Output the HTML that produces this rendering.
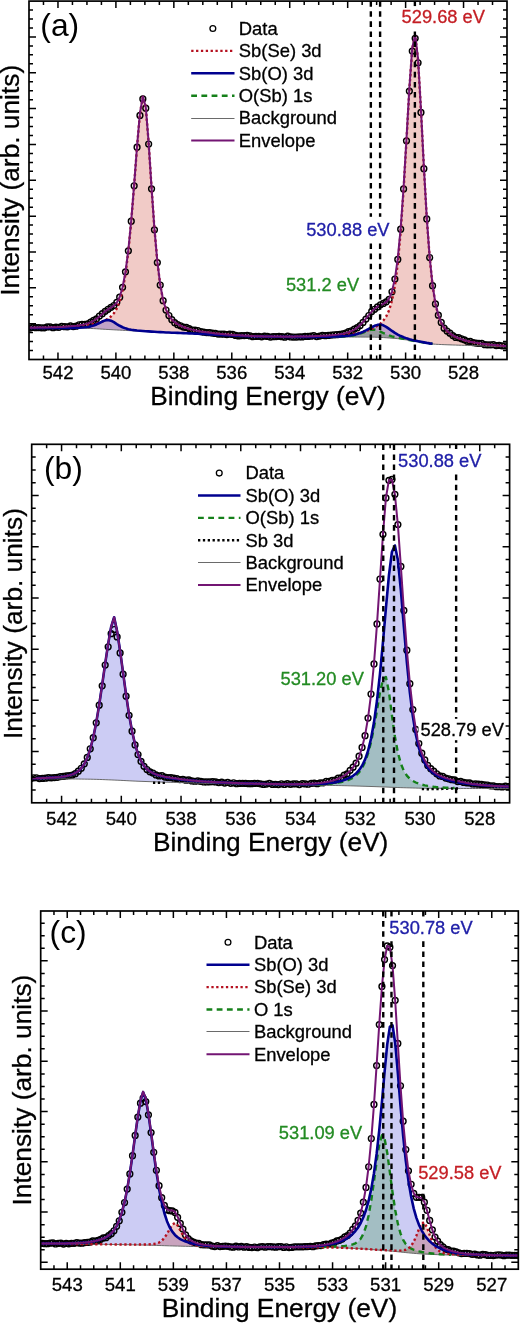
<!DOCTYPE html>
<html><head><meta charset="utf-8"><title>XPS Sb 3d / O 1s</title>
<style>
html,body{margin:0;padding:0;background:#fff;}
body{width:520px;height:1323px;overflow:hidden;}
svg{display:block;}
svg text{font-family:'Liberation Sans', Arial, Helvetica, sans-serif;stroke:currentColor;stroke-width:0.3px;}
</style></head>
<body>
<svg width="520" height="1323" viewBox="0 0 520 1323">
<rect width="520" height="1323" fill="#fff"/>
<clipPath id="clipa"><rect x="29" y="1.1" width="478" height="358.4"/></clipPath>
<g clip-path="url(#clipa)">
<polygon points="24.08,327.79 26.97,327.78 29.87,327.76 32.77,327.74 35.66,327.71 38.56,327.68 41.46,327.64 44.35,327.59 47.25,327.53 50.15,327.47 53.04,327.39 55.94,327.3 58.84,327.2 61.74,327.08 64.63,326.94 67.53,326.79 70.43,326.61 73.32,326.4 76.22,326.17 79.12,325.89 82.01,325.57 84.91,325.2 87.81,324.79 90.71,324.33 93.6,323.82 96.5,323.21 99.4,322.46 102.29,321.52 105.19,320.3 108.09,318.69 110.98,316.47 113.88,313.29 116.78,308.55 119.68,301.32 122.57,290.3 125.47,274.03 128.37,251.18 131.26,221.21 134.16,185.11 137.06,146.6 139.95,113.45 142.85,96.86 145.75,107.06 148.64,142.87 151.54,187.59 154.44,228.9 157.34,261.58 160.23,284.83 163.13,300.13 166.03,309.72 168.92,315.69 171.82,319.56 174.72,322.23 177.61,324.2 180.51,325.75 183.41,326.99 186.31,328.03 189.2,328.91 192.1,329.67 195,330.34 197.89,330.93 200.79,331.46 203.69,331.94 206.58,332.38 209.48,332.78 212.38,333.15 215.28,333.48 218.17,333.79 221.07,334.07 223.97,334.32 226.86,334.55 229.76,334.76 232.66,334.97 235.55,335.17 238.45,335.35 241.35,335.52 244.24,335.68 247.14,335.83 250.04,335.96 252.94,336.08 255.83,336.19 258.73,336.27 261.63,336.35 264.52,336.41 267.42,336.47 270.32,336.53 273.21,336.58 276.11,336.62 279.01,336.66 281.91,336.69 284.8,336.71 287.7,336.73 290.6,336.74 293.49,336.74 296.39,336.73 299.29,336.71 302.18,336.68 305.08,336.65 307.98,336.61 310.88,336.56 313.77,336.5 316.67,336.43 319.57,336.34 322.46,336.25 325.36,336.14 328.26,336.02 331.15,335.88 334.05,335.72 336.95,335.53 339.84,335.32 342.74,335.08 345.64,334.8 348.54,334.47 351.43,334.1 354.33,333.66 357.23,333.16 360.12,332.56 363.02,331.87 365.92,331.04 368.81,330.06 371.71,328.88 374.61,327.48 377.51,325.77 380.4,323.59 383.3,320.67 386.2,316.51 389.09,310.27 391.99,300.59 394.89,285.63 397.78,263.27 400.68,231.67 403.58,190.17 406.48,140.62 409.37,89.3 412.27,48.86 415.17,35.54 418.06,59.59 420.96,110.16 423.86,167.12 426.75,217.84 429.65,257.36 432.55,285.36 435.44,303.79 438.34,315.45 441.24,322.82 444.14,327.64 447.03,331.01 449.93,333.5 452.83,335.45 455.72,337.02 458.62,338.3 461.52,339.38 464.41,340.29 467.31,341.08 470.21,341.76 473.11,342.36 476,342.89 478.9,343.36 481.8,343.77 484.69,344.15 487.59,344.48 490.49,344.79 493.38,345.07 496.28,345.33 499.18,345.56 502.08,345.78 504.97,345.99 507.87,346.18 510.77,346.37 513.66,346.54 513.66,347.03 510.77,346.93 507.87,346.83 504.97,346.73 502.08,346.63 499.18,346.53 496.28,346.43 493.38,346.32 490.49,346.22 487.59,346.12 484.69,346.02 481.8,345.92 478.9,345.82 476,345.72 473.11,345.61 470.21,345.51 467.31,345.41 464.41,345.32 461.52,345.23 458.62,345.15 455.72,345.06 452.83,344.98 449.93,344.88 447.03,344.78 444.14,344.67 441.24,344.54 438.34,344.39 435.44,344.23 432.55,344 429.65,343.66 426.75,343.24 423.86,342.76 420.96,342.27 418.06,341.78 415.17,341.32 412.27,340.88 409.37,340.41 406.48,339.92 403.58,339.46 400.68,339.03 397.78,338.67 394.89,338.39 391.99,338.17 389.09,337.95 386.2,337.75 383.3,337.56 380.4,337.4 377.51,337.27 374.61,337.17 371.71,337.11 368.81,337.1 365.92,337.09 363.02,337.08 360.12,337.07 357.23,337.07 354.33,337.06 351.43,337.06 348.54,337.06 345.64,337.05 342.74,337.05 339.84,337.05 336.95,337.05 334.05,337.04 331.15,337.04 328.26,337.04 325.36,337.04 322.46,337.04 319.57,337.03 316.67,337.03 313.77,337.03 310.88,337.02 307.98,337.02 305.08,337.01 302.18,337.01 299.29,337 296.39,336.99 293.49,336.97 290.6,336.95 287.7,336.92 284.8,336.89 281.91,336.86 279.01,336.82 276.11,336.78 273.21,336.73 270.32,336.68 267.42,336.64 264.52,336.58 261.63,336.53 258.73,336.47 255.83,336.41 252.94,336.33 250.04,336.24 247.14,336.13 244.24,336.03 241.35,335.91 238.45,335.79 235.55,335.66 232.66,335.54 229.76,335.41 226.86,335.28 223.97,335.15 221.07,335.02 218.17,334.88 215.28,334.72 212.38,334.57 209.48,334.41 206.58,334.24 203.69,334.08 200.79,333.93 197.89,333.77 195,333.63 192.1,333.49 189.2,333.37 186.31,333.25 183.41,333.15 180.51,333.05 177.61,332.96 174.72,332.86 171.82,332.76 168.92,332.66 166.03,332.54 163.13,332.42 160.23,332.28 157.34,332.14 154.44,331.99 151.54,331.83 148.64,331.67 145.75,331.51 142.85,331.35 139.95,331.2 137.06,331.04 134.16,330.89 131.26,330.74 128.37,330.58 125.47,330.43 122.57,330.27 119.68,330.11 116.78,329.96 113.88,329.81 110.98,329.65 108.09,329.49 105.19,329.32 102.29,329.13 99.4,328.94 96.5,328.76 93.6,328.59 90.71,328.46 87.81,328.35 84.91,328.3 82.01,328.27 79.12,328.24 76.22,328.22 73.32,328.2 70.43,328.18 67.53,328.16 64.63,328.15 61.74,328.13 58.84,328.12 55.94,328.11 53.04,328.1 50.15,328.09 47.25,328.08 44.35,328.07 41.46,328.05 38.56,328.04 35.66,328.03 32.77,328.02 29.87,328 26.97,327.99 24.08,327.97" fill="#c01000" fill-opacity="0.22"/>
<polygon points="24.08,327.94 26.97,327.95 29.87,327.96 32.77,327.97 35.66,327.98 38.56,327.98 41.46,327.99 44.35,327.99 47.25,327.99 50.15,327.98 53.04,327.98 55.94,327.97 58.84,327.96 61.74,327.95 64.63,327.93 67.53,327.91 70.43,327.87 73.32,327.83 76.22,327.77 79.12,327.68 82.01,327.54 84.91,327.3 87.81,326.93 90.71,326.37 93.6,325.55 96.5,324.42 99.4,323.02 102.29,321.55 105.19,320.37 108.09,319.99 110.98,320.7 113.88,322.22 116.78,324.04 119.68,325.77 122.57,327.22 125.47,328.34 128.37,329.15 131.26,329.74 134.16,330.16 137.06,330.49 139.95,330.75 142.85,330.99 145.75,331.21 148.64,331.41 151.54,331.61 154.44,331.8 157.34,331.98 160.23,332.14 163.13,332.3 166.03,332.44 168.92,332.57 171.82,332.68 174.72,332.79 177.61,332.9 180.51,333 183.41,333.1 186.31,333.21 189.2,333.33 192.1,333.46 195,333.6 197.89,333.75 200.79,333.9 203.69,334.06 206.58,334.23 209.48,334.39 212.38,334.55 215.28,334.71 218.17,334.86 221.07,335.01 223.97,335.15 226.86,335.27 229.76,335.4 232.66,335.53 235.55,335.66 238.45,335.78 241.35,335.9 244.24,336.02 247.14,336.12 250.04,336.22 252.94,336.31 255.83,336.39 258.73,336.46 261.63,336.51 264.52,336.56 267.42,336.61 270.32,336.66 273.21,336.7 276.11,336.74 279.01,336.78 281.91,336.81 284.8,336.84 287.7,336.87 290.6,336.89 293.49,336.9 296.39,336.91 299.29,336.91 302.18,336.9 305.08,336.89 307.98,336.88 310.88,336.87 313.77,336.85 316.67,336.83 319.57,336.8 322.46,336.77 325.36,336.73 328.26,336.69 331.15,336.63 334.05,336.57 336.95,336.48 339.84,336.37 342.74,336.22 345.64,336.01 348.54,335.71 351.43,335.3 354.33,334.74 357.23,333.99 360.12,333.03 363.02,331.83 365.92,330.41 368.81,328.84 371.71,327.23 374.61,325.82 377.51,324.86 380.4,324.6 383.3,325.29 386.2,326.85 389.09,328.86 391.99,330.95 394.89,332.89 397.78,334.59 400.68,336.06 403.58,337.31 406.48,338.35 409.37,339.23 412.27,339.98 415.17,340.61 418.06,341.19 420.96,341.78 423.86,342.35 426.75,342.89 429.65,343.36 432.55,343.74 435.44,344 438.34,344.2 441.24,344.37 444.14,344.52 447.03,344.65 449.93,344.77 452.83,344.88 455.72,344.97 458.62,345.07 461.52,345.16 464.41,345.26 467.31,345.36 470.21,345.46 473.11,345.57 476,345.68 478.9,345.79 481.8,345.89 484.69,346 487.59,346.1 490.49,346.21 493.38,346.31 496.28,346.41 499.18,346.51 502.08,346.62 504.97,346.72 507.87,346.82 510.77,346.93 513.66,347.03 513.66,347.03 510.77,346.93 507.87,346.83 504.97,346.73 502.08,346.63 499.18,346.53 496.28,346.43 493.38,346.32 490.49,346.22 487.59,346.12 484.69,346.02 481.8,345.92 478.9,345.82 476,345.72 473.11,345.61 470.21,345.51 467.31,345.41 464.41,345.32 461.52,345.23 458.62,345.15 455.72,345.06 452.83,344.98 449.93,344.88 447.03,344.78 444.14,344.67 441.24,344.54 438.34,344.39 435.44,344.23 432.55,344 429.65,343.66 426.75,343.24 423.86,342.76 420.96,342.27 418.06,341.78 415.17,341.32 412.27,340.88 409.37,340.41 406.48,339.92 403.58,339.46 400.68,339.03 397.78,338.67 394.89,338.39 391.99,338.17 389.09,337.95 386.2,337.75 383.3,337.56 380.4,337.4 377.51,337.27 374.61,337.17 371.71,337.11 368.81,337.1 365.92,337.09 363.02,337.08 360.12,337.07 357.23,337.07 354.33,337.06 351.43,337.06 348.54,337.06 345.64,337.05 342.74,337.05 339.84,337.05 336.95,337.05 334.05,337.04 331.15,337.04 328.26,337.04 325.36,337.04 322.46,337.04 319.57,337.03 316.67,337.03 313.77,337.03 310.88,337.02 307.98,337.02 305.08,337.01 302.18,337.01 299.29,337 296.39,336.99 293.49,336.97 290.6,336.95 287.7,336.92 284.8,336.89 281.91,336.86 279.01,336.82 276.11,336.78 273.21,336.73 270.32,336.68 267.42,336.64 264.52,336.58 261.63,336.53 258.73,336.47 255.83,336.41 252.94,336.33 250.04,336.24 247.14,336.13 244.24,336.03 241.35,335.91 238.45,335.79 235.55,335.66 232.66,335.54 229.76,335.41 226.86,335.28 223.97,335.15 221.07,335.02 218.17,334.88 215.28,334.72 212.38,334.57 209.48,334.41 206.58,334.24 203.69,334.08 200.79,333.93 197.89,333.77 195,333.63 192.1,333.49 189.2,333.37 186.31,333.25 183.41,333.15 180.51,333.05 177.61,332.96 174.72,332.86 171.82,332.76 168.92,332.66 166.03,332.54 163.13,332.42 160.23,332.28 157.34,332.14 154.44,331.99 151.54,331.83 148.64,331.67 145.75,331.51 142.85,331.35 139.95,331.2 137.06,331.04 134.16,330.89 131.26,330.74 128.37,330.58 125.47,330.43 122.57,330.27 119.68,330.11 116.78,329.96 113.88,329.81 110.98,329.65 108.09,329.49 105.19,329.32 102.29,329.13 99.4,328.94 96.5,328.76 93.6,328.59 90.71,328.46 87.81,328.35 84.91,328.3 82.01,328.27 79.12,328.24 76.22,328.22 73.32,328.2 70.43,328.18 67.53,328.16 64.63,328.15 61.74,328.13 58.84,328.12 55.94,328.11 53.04,328.1 50.15,328.09 47.25,328.08 44.35,328.07 41.46,328.05 38.56,328.04 35.66,328.03 32.77,328.02 29.87,328 26.97,327.99 24.08,327.97" fill="#0000c8" fill-opacity="0.2"/>
<polygon points="24.08,327.97 26.97,327.99 29.87,328 32.77,328.02 35.66,328.03 38.56,328.04 41.46,328.05 44.35,328.07 47.25,328.08 50.15,328.09 53.04,328.1 55.94,328.11 58.84,328.12 61.74,328.13 64.63,328.15 67.53,328.16 70.43,328.18 73.32,328.2 76.22,328.22 79.12,328.24 82.01,328.27 84.91,328.3 87.81,328.35 90.71,328.46 93.6,328.59 96.5,328.76 99.4,328.94 102.29,329.13 105.19,329.32 108.09,329.49 110.98,329.65 113.88,329.81 116.78,329.96 119.68,330.11 122.57,330.27 125.47,330.43 128.37,330.58 131.26,330.74 134.16,330.89 137.06,331.04 139.95,331.2 142.85,331.35 145.75,331.51 148.64,331.67 151.54,331.83 154.44,331.99 157.34,332.14 160.23,332.28 163.13,332.42 166.03,332.54 168.92,332.66 171.82,332.76 174.72,332.86 177.61,332.96 180.51,333.05 183.41,333.15 186.31,333.25 189.2,333.37 192.1,333.49 195,333.63 197.89,333.77 200.79,333.92 203.69,334.08 206.58,334.24 209.48,334.4 212.38,334.57 215.28,334.72 218.17,334.87 221.07,335.02 223.97,335.15 226.86,335.28 229.76,335.41 232.66,335.53 235.55,335.66 238.45,335.79 241.35,335.91 244.24,336.02 247.14,336.13 250.04,336.23 252.94,336.32 255.83,336.4 258.73,336.47 261.63,336.52 264.52,336.57 267.42,336.62 270.32,336.67 273.21,336.72 276.11,336.76 279.01,336.8 281.91,336.83 284.8,336.86 287.7,336.89 290.6,336.91 293.49,336.93 296.39,336.94 299.29,336.95 302.18,336.95 305.08,336.95 307.98,336.94 310.88,336.94 313.77,336.93 316.67,336.92 319.57,336.91 322.46,336.89 325.36,336.87 328.26,336.84 331.15,336.81 334.05,336.77 336.95,336.71 339.84,336.64 342.74,336.53 345.64,336.37 348.54,336.13 351.43,335.77 354.33,335.25 357.23,334.54 360.12,333.62 363.02,332.53 365.92,331.37 368.81,330.33 371.71,329.7 374.61,329.76 377.51,330.5 380.4,331.69 383.3,333.02 386.2,334.3 389.09,335.42 391.99,336.35 394.89,337.1 397.78,337.74 400.68,338.35 403.58,338.93 406.48,339.51 409.37,340.07 412.27,340.6 415.17,341.09 418.06,341.58 420.96,342.09 423.86,342.62 426.75,343.11 429.65,343.55 432.55,343.9 435.44,344.14 438.34,344.32 441.24,344.48 444.14,344.61 447.03,344.73 449.93,344.84 452.83,344.94 455.72,345.03 458.62,345.12 461.52,345.2 464.41,345.29 467.31,345.39 470.21,345.49 473.11,345.6 476,345.7 478.9,345.81 481.8,345.91 484.69,346.01 487.59,346.12 490.49,346.22 493.38,346.32 496.28,346.42 499.18,346.52 502.08,346.62 504.97,346.73 507.87,346.83 510.77,346.93 513.66,347.03 513.66,347.03 510.77,346.93 507.87,346.83 504.97,346.73 502.08,346.63 499.18,346.53 496.28,346.43 493.38,346.32 490.49,346.22 487.59,346.12 484.69,346.02 481.8,345.92 478.9,345.82 476,345.72 473.11,345.61 470.21,345.51 467.31,345.41 464.41,345.32 461.52,345.23 458.62,345.15 455.72,345.06 452.83,344.98 449.93,344.88 447.03,344.78 444.14,344.67 441.24,344.54 438.34,344.39 435.44,344.23 432.55,344 429.65,343.66 426.75,343.24 423.86,342.76 420.96,342.27 418.06,341.78 415.17,341.32 412.27,340.88 409.37,340.41 406.48,339.92 403.58,339.46 400.68,339.03 397.78,338.67 394.89,338.39 391.99,338.17 389.09,337.95 386.2,337.75 383.3,337.56 380.4,337.4 377.51,337.27 374.61,337.17 371.71,337.11 368.81,337.1 365.92,337.09 363.02,337.08 360.12,337.07 357.23,337.07 354.33,337.06 351.43,337.06 348.54,337.06 345.64,337.05 342.74,337.05 339.84,337.05 336.95,337.05 334.05,337.04 331.15,337.04 328.26,337.04 325.36,337.04 322.46,337.04 319.57,337.03 316.67,337.03 313.77,337.03 310.88,337.02 307.98,337.02 305.08,337.01 302.18,337.01 299.29,337 296.39,336.99 293.49,336.97 290.6,336.95 287.7,336.92 284.8,336.89 281.91,336.86 279.01,336.82 276.11,336.78 273.21,336.73 270.32,336.68 267.42,336.64 264.52,336.58 261.63,336.53 258.73,336.47 255.83,336.41 252.94,336.33 250.04,336.24 247.14,336.13 244.24,336.03 241.35,335.91 238.45,335.79 235.55,335.66 232.66,335.54 229.76,335.41 226.86,335.28 223.97,335.15 221.07,335.02 218.17,334.88 215.28,334.72 212.38,334.57 209.48,334.41 206.58,334.24 203.69,334.08 200.79,333.93 197.89,333.77 195,333.63 192.1,333.49 189.2,333.37 186.31,333.25 183.41,333.15 180.51,333.05 177.61,332.96 174.72,332.86 171.82,332.76 168.92,332.66 166.03,332.54 163.13,332.42 160.23,332.28 157.34,332.14 154.44,331.99 151.54,331.83 148.64,331.67 145.75,331.51 142.85,331.35 139.95,331.2 137.06,331.04 134.16,330.89 131.26,330.74 128.37,330.58 125.47,330.43 122.57,330.27 119.68,330.11 116.78,329.96 113.88,329.81 110.98,329.65 108.09,329.49 105.19,329.32 102.29,329.13 99.4,328.94 96.5,328.76 93.6,328.59 90.71,328.46 87.81,328.35 84.91,328.3 82.01,328.27 79.12,328.24 76.22,328.22 73.32,328.2 70.43,328.18 67.53,328.16 64.63,328.15 61.74,328.13 58.84,328.12 55.94,328.11 53.04,328.1 50.15,328.09 47.25,328.08 44.35,328.07 41.46,328.05 38.56,328.04 35.66,328.03 32.77,328.02 29.87,328 26.97,327.99 24.08,327.97" fill="#008800" fill-opacity="0.2"/>
<g fill="none" stroke="#000" stroke-width="1.45"><circle cx="24.08" cy="327.32" r="2.9"/><circle cx="26.97" cy="328.16" r="2.9"/><circle cx="29.87" cy="328.04" r="2.9"/><circle cx="32.77" cy="327.4" r="2.9"/><circle cx="35.66" cy="327.66" r="2.9"/><circle cx="38.56" cy="327.56" r="2.9"/><circle cx="41.46" cy="327.76" r="2.9"/><circle cx="44.35" cy="327.86" r="2.9"/><circle cx="47.25" cy="326.96" r="2.9"/><circle cx="50.15" cy="326.8" r="2.9"/><circle cx="53.04" cy="327.68" r="2.9"/><circle cx="55.94" cy="327.09" r="2.9"/><circle cx="58.84" cy="327.36" r="2.9"/><circle cx="61.74" cy="326.3" r="2.9"/><circle cx="64.63" cy="326.67" r="2.9"/><circle cx="67.53" cy="326.81" r="2.9"/><circle cx="70.43" cy="325.99" r="2.9"/><circle cx="73.32" cy="326.59" r="2.9"/><circle cx="76.22" cy="326.22" r="2.9"/><circle cx="79.12" cy="324.79" r="2.9"/><circle cx="82.01" cy="324.3" r="2.9"/><circle cx="84.91" cy="324.28" r="2.9"/><circle cx="87.81" cy="323.92" r="2.9"/><circle cx="90.71" cy="322.14" r="2.9"/><circle cx="93.6" cy="320.47" r="2.9"/><circle cx="96.5" cy="318.82" r="2.9"/><circle cx="99.4" cy="316.03" r="2.9"/><circle cx="102.29" cy="313.67" r="2.9"/><circle cx="105.19" cy="311.36" r="2.9"/><circle cx="108.09" cy="309.28" r="2.9"/><circle cx="110.98" cy="307.31" r="2.9"/><circle cx="113.88" cy="305.53" r="2.9"/><circle cx="116.78" cy="302.48" r="2.9"/><circle cx="119.68" cy="297.17" r="2.9"/><circle cx="122.57" cy="287.34" r="2.9"/><circle cx="125.47" cy="271.84" r="2.9"/><circle cx="128.37" cy="250.83" r="2.9"/><circle cx="131.26" cy="221.21" r="2.9"/><circle cx="134.16" cy="185.79" r="2.9"/><circle cx="137.06" cy="147.23" r="2.9"/><circle cx="139.95" cy="115.45" r="2.9"/><circle cx="142.85" cy="98.93" r="2.9"/><circle cx="145.75" cy="108.21" r="2.9"/><circle cx="148.64" cy="144.02" r="2.9"/><circle cx="151.54" cy="188.87" r="2.9"/><circle cx="154.44" cy="229.85" r="2.9"/><circle cx="157.34" cy="262.55" r="2.9"/><circle cx="160.23" cy="285" r="2.9"/><circle cx="163.13" cy="300.68" r="2.9"/><circle cx="166.03" cy="310.01" r="2.9"/><circle cx="168.92" cy="315.51" r="2.9"/><circle cx="171.82" cy="319.7" r="2.9"/><circle cx="174.72" cy="322.71" r="2.9"/><circle cx="177.61" cy="324.63" r="2.9"/><circle cx="180.51" cy="325.76" r="2.9"/><circle cx="183.41" cy="327.11" r="2.9"/><circle cx="186.31" cy="327.48" r="2.9"/><circle cx="189.2" cy="328.6" r="2.9"/><circle cx="192.1" cy="330.03" r="2.9"/><circle cx="195" cy="330.23" r="2.9"/><circle cx="197.89" cy="330.54" r="2.9"/><circle cx="200.79" cy="331.52" r="2.9"/><circle cx="203.69" cy="332.18" r="2.9"/><circle cx="206.58" cy="332.59" r="2.9"/><circle cx="209.48" cy="332.63" r="2.9"/><circle cx="212.38" cy="333.07" r="2.9"/><circle cx="215.28" cy="333.49" r="2.9"/><circle cx="218.17" cy="334.12" r="2.9"/><circle cx="221.07" cy="334.09" r="2.9"/><circle cx="223.97" cy="334.19" r="2.9"/><circle cx="226.86" cy="334.53" r="2.9"/><circle cx="229.76" cy="334.2" r="2.9"/><circle cx="232.66" cy="334.42" r="2.9"/><circle cx="235.55" cy="335.4" r="2.9"/><circle cx="238.45" cy="335.92" r="2.9"/><circle cx="241.35" cy="335.62" r="2.9"/><circle cx="244.24" cy="335.54" r="2.9"/><circle cx="247.14" cy="335.42" r="2.9"/><circle cx="250.04" cy="335.95" r="2.9"/><circle cx="252.94" cy="336.65" r="2.9"/><circle cx="255.83" cy="336.49" r="2.9"/><circle cx="258.73" cy="336.3" r="2.9"/><circle cx="261.63" cy="336.76" r="2.9"/><circle cx="264.52" cy="336.06" r="2.9"/><circle cx="267.42" cy="336.46" r="2.9"/><circle cx="270.32" cy="337.03" r="2.9"/><circle cx="273.21" cy="336.63" r="2.9"/><circle cx="276.11" cy="336.52" r="2.9"/><circle cx="279.01" cy="336.33" r="2.9"/><circle cx="281.91" cy="336.69" r="2.9"/><circle cx="284.8" cy="337.19" r="2.9"/><circle cx="287.7" cy="336.06" r="2.9"/><circle cx="290.6" cy="336.99" r="2.9"/><circle cx="293.49" cy="337.02" r="2.9"/><circle cx="296.39" cy="337.07" r="2.9"/><circle cx="299.29" cy="336.86" r="2.9"/><circle cx="302.18" cy="336.9" r="2.9"/><circle cx="305.08" cy="336.49" r="2.9"/><circle cx="307.98" cy="336.48" r="2.9"/><circle cx="310.88" cy="336.23" r="2.9"/><circle cx="313.77" cy="335.7" r="2.9"/><circle cx="316.67" cy="336.56" r="2.9"/><circle cx="319.57" cy="336.08" r="2.9"/><circle cx="322.46" cy="335.49" r="2.9"/><circle cx="325.36" cy="335.68" r="2.9"/><circle cx="328.26" cy="335.46" r="2.9"/><circle cx="331.15" cy="335.08" r="2.9"/><circle cx="334.05" cy="334.79" r="2.9"/><circle cx="336.95" cy="334.7" r="2.9"/><circle cx="339.84" cy="334.4" r="2.9"/><circle cx="342.74" cy="333.88" r="2.9"/><circle cx="345.64" cy="333.04" r="2.9"/><circle cx="348.54" cy="331.67" r="2.9"/><circle cx="351.43" cy="330.77" r="2.9"/><circle cx="354.33" cy="329.19" r="2.9"/><circle cx="357.23" cy="327.71" r="2.9"/><circle cx="360.12" cy="325.56" r="2.9"/><circle cx="363.02" cy="322.49" r="2.9"/><circle cx="365.92" cy="319.08" r="2.9"/><circle cx="368.81" cy="315.5" r="2.9"/><circle cx="371.71" cy="311.4" r="2.9"/><circle cx="374.61" cy="309.25" r="2.9"/><circle cx="377.51" cy="306.95" r="2.9"/><circle cx="380.4" cy="304.76" r="2.9"/><circle cx="383.3" cy="303.49" r="2.9"/><circle cx="386.2" cy="301.85" r="2.9"/><circle cx="389.09" cy="299.32" r="2.9"/><circle cx="391.99" cy="291.76" r="2.9"/><circle cx="394.89" cy="279.06" r="2.9"/><circle cx="397.78" cy="259.4" r="2.9"/><circle cx="400.68" cy="229.24" r="2.9"/><circle cx="403.58" cy="188.94" r="2.9"/><circle cx="406.48" cy="140.84" r="2.9"/><circle cx="409.37" cy="91.11" r="2.9"/><circle cx="412.27" cy="51.1" r="2.9"/><circle cx="415.17" cy="38.31" r="2.9"/><circle cx="418.06" cy="62.75" r="2.9"/><circle cx="420.96" cy="112.48" r="2.9"/><circle cx="423.86" cy="168.64" r="2.9"/><circle cx="426.75" cy="218.96" r="2.9"/><circle cx="429.65" cy="257.5" r="2.9"/><circle cx="432.55" cy="285.63" r="2.9"/><circle cx="435.44" cy="303.92" r="2.9"/><circle cx="438.34" cy="315.18" r="2.9"/><circle cx="441.24" cy="322.39" r="2.9"/><circle cx="444.14" cy="328.14" r="2.9"/><circle cx="447.03" cy="331.02" r="2.9"/><circle cx="449.93" cy="333.14" r="2.9"/><circle cx="452.83" cy="335.56" r="2.9"/><circle cx="455.72" cy="337.38" r="2.9"/><circle cx="458.62" cy="337.71" r="2.9"/><circle cx="461.52" cy="338.78" r="2.9"/><circle cx="464.41" cy="339.85" r="2.9"/><circle cx="467.31" cy="341.32" r="2.9"/><circle cx="470.21" cy="341.34" r="2.9"/><circle cx="473.11" cy="342.6" r="2.9"/><circle cx="476" cy="343.09" r="2.9"/><circle cx="478.9" cy="343.4" r="2.9"/><circle cx="481.8" cy="343.43" r="2.9"/><circle cx="484.69" cy="344.71" r="2.9"/><circle cx="487.59" cy="344.83" r="2.9"/><circle cx="490.49" cy="344.8" r="2.9"/><circle cx="493.38" cy="344.73" r="2.9"/><circle cx="496.28" cy="345.5" r="2.9"/><circle cx="499.18" cy="345.43" r="2.9"/><circle cx="502.08" cy="345.87" r="2.9"/><circle cx="504.97" cy="345.77" r="2.9"/><circle cx="507.87" cy="346.34" r="2.9"/><circle cx="510.77" cy="345.83" r="2.9"/><circle cx="513.66" cy="346.3" r="2.9"/></g>
<polyline points="24.08,327.97 26.97,327.99 29.87,328 32.77,328.02 35.66,328.03 38.56,328.04 41.46,328.05 44.35,328.07 47.25,328.08 50.15,328.09 53.04,328.1 55.94,328.11 58.84,328.12 61.74,328.13 64.63,328.15 67.53,328.16 70.43,328.18 73.32,328.2 76.22,328.22 79.12,328.24 82.01,328.27 84.91,328.3 87.81,328.35 90.71,328.46 93.6,328.59 96.5,328.76 99.4,328.94 102.29,329.13 105.19,329.32 108.09,329.49 110.98,329.65 113.88,329.81 116.78,329.96 119.68,330.11 122.57,330.27 125.47,330.43 128.37,330.58 131.26,330.74 134.16,330.89 137.06,331.04 139.95,331.2 142.85,331.35 145.75,331.51 148.64,331.67 151.54,331.83 154.44,331.99 157.34,332.14 160.23,332.28 163.13,332.42 166.03,332.54 168.92,332.66 171.82,332.76 174.72,332.86 177.61,332.96 180.51,333.05 183.41,333.15 186.31,333.25 189.2,333.37 192.1,333.49 195,333.63 197.89,333.77 200.79,333.93 203.69,334.08 206.58,334.24 209.48,334.41 212.38,334.57 215.28,334.72 218.17,334.88 221.07,335.02 223.97,335.15 226.86,335.28 229.76,335.41 232.66,335.54 235.55,335.66 238.45,335.79 241.35,335.91 244.24,336.03 247.14,336.13 250.04,336.24 252.94,336.33 255.83,336.41 258.73,336.47 261.63,336.53 264.52,336.58 267.42,336.64 270.32,336.68 273.21,336.73 276.11,336.78 279.01,336.82 281.91,336.86 284.8,336.89 287.7,336.92 290.6,336.95 293.49,336.97 296.39,336.99 299.29,337 302.18,337.01 305.08,337.01 307.98,337.02 310.88,337.02 313.77,337.03 316.67,337.03 319.57,337.03 322.46,337.04 325.36,337.04 328.26,337.04 331.15,337.04 334.05,337.04 336.95,337.05 339.84,337.05 342.74,337.05 345.64,337.05 348.54,337.06 351.43,337.06 354.33,337.06 357.23,337.07 360.12,337.07 363.02,337.08 365.92,337.09 368.81,337.1 371.71,337.11 374.61,337.17 377.51,337.27 380.4,337.4 383.3,337.56 386.2,337.75 389.09,337.95 391.99,338.17 394.89,338.39 397.78,338.67 400.68,339.03 403.58,339.46 406.48,339.92 409.37,340.41 412.27,340.88 415.17,341.32 418.06,341.78 420.96,342.27 423.86,342.76 426.75,343.24 429.65,343.66 432.55,344 435.44,344.23 438.34,344.39 441.24,344.54 444.14,344.67 447.03,344.78 449.93,344.88 452.83,344.98 455.72,345.06 458.62,345.15 461.52,345.23 464.41,345.32 467.31,345.41 470.21,345.51 473.11,345.61 476,345.72 478.9,345.82 481.8,345.92 484.69,346.02 487.59,346.12 490.49,346.22 493.38,346.32 496.28,346.43 499.18,346.53 502.08,346.63 504.97,346.73 507.87,346.83 510.77,346.93 513.66,347.03" fill="none" stroke="#6a6a6a" stroke-width="1"/>
<path d="M319.57,336.91 L322.46,336.89 L325.36,336.87 L328.26,336.84 L331.15,336.81 L334.05,336.77 L336.95,336.71 L339.84,336.64 L342.74,336.53 L345.64,336.37 L348.54,336.13 L351.43,335.77 L354.33,335.25 L357.23,334.54 L360.12,333.62 L363.02,332.53 L365.92,331.37 L368.81,330.33 L371.71,329.7 L374.61,329.76 L377.51,330.5 L380.4,331.69 L383.3,333.02 L386.2,334.3 L389.09,335.42 L391.99,336.35 L394.89,337.1 L397.78,337.74 L400.68,338.35 L403.58,338.93 L406.48,339.51 L409.37,340.07 L412.27,340.6 L415.17,341.09 L418.06,341.58 L420.96,342.09 L423.86,342.62 L426.75,343.11 L429.65,343.55 L432.55,343.9" fill="none" stroke-linejoin="round" stroke="#15801a" stroke-width="2.4" stroke-dasharray="5.8 4.4"/>
<path d="M24.08,327.79 L26.97,327.78 L29.87,327.76 L32.77,327.74 L35.66,327.71 L38.56,327.68 L41.46,327.64 L44.35,327.59 L47.25,327.53 L50.15,327.47 L53.04,327.39 L55.94,327.3 L58.84,327.2 L61.74,327.08 L64.63,326.94 L67.53,326.79 L70.43,326.61 L73.32,326.4 L76.22,326.17 L79.12,325.89 L82.01,325.57 L84.91,325.2 L87.81,324.79 L90.71,324.33 L93.6,323.82 L96.5,323.21 L99.4,322.46 L102.29,321.52 L105.19,320.3 L108.09,318.69 L110.98,316.47 L113.88,313.29 L116.78,308.55 L119.68,301.32 L122.57,290.3 L125.47,274.03 L128.37,251.18 L131.26,221.21 L134.16,185.11 L137.06,146.6 L139.95,113.45 L142.85,96.86 L145.75,107.06 L148.64,142.87 L151.54,187.59 L154.44,228.9 L157.34,261.58 L160.23,284.83 L163.13,300.13 L166.03,309.72 L168.92,315.69 L171.82,319.56 L174.72,322.23 L177.61,324.2 L180.51,325.75 L183.41,326.99 L186.31,328.03 L189.2,328.91 L192.1,329.67 L195,330.34 L197.89,330.93 L200.79,331.46 L203.69,331.94 L206.58,332.38 L209.48,332.78 L212.38,333.15 L215.28,333.48 L218.17,333.79 L221.07,334.07 L223.97,334.32 L226.86,334.55 L229.76,334.76 L232.66,334.97 L235.55,335.17 L238.45,335.35 L241.35,335.52 L244.24,335.68 L247.14,335.83 L250.04,335.96 L252.94,336.08 L255.83,336.19 L258.73,336.27 L261.63,336.35 L264.52,336.41 L267.42,336.47 L270.32,336.53 L273.21,336.58 L276.11,336.62 L279.01,336.66 L281.91,336.69 L284.8,336.71 L287.7,336.73 L290.6,336.74 L293.49,336.74 L296.39,336.73 L299.29,336.71 L302.18,336.68 L305.08,336.65 L307.98,336.61 L310.88,336.56 L313.77,336.5 L316.67,336.43 L319.57,336.34 L322.46,336.25 L325.36,336.14 L328.26,336.02 L331.15,335.88 L334.05,335.72 L336.95,335.53 L339.84,335.32 L342.74,335.08 L345.64,334.8 L348.54,334.47 L351.43,334.1 L354.33,333.66 L357.23,333.16 L360.12,332.56 L363.02,331.87 L365.92,331.04 L368.81,330.06 L371.71,328.88 L374.61,327.48 L377.51,325.77 L380.4,323.59 L383.3,320.67 L386.2,316.51 L389.09,310.27 L391.99,300.59 L394.89,285.63 L397.78,263.27 L400.68,231.67 L403.58,190.17 L406.48,140.62 L409.37,89.3 L412.27,48.86 L415.17,35.54 L418.06,59.59 L420.96,110.16 L423.86,167.12 L426.75,217.84 L429.65,257.36 L432.55,285.36 L435.44,303.79 L438.34,315.45 L441.24,322.82 L444.14,327.64 L447.03,331.01 L449.93,333.5 L452.83,335.45 L455.72,337.02 L458.62,338.3 L461.52,339.38 L464.41,340.29 L467.31,341.08 L470.21,341.76 L473.11,342.36 L476,342.89 L478.9,343.36 L481.8,343.77 L484.69,344.15 L487.59,344.48 L490.49,344.79 L493.38,345.07 L496.28,345.33 L499.18,345.56 L502.08,345.78 L504.97,345.99 L507.87,346.18 L510.77,346.37 L513.66,346.54" fill="none" stroke-linejoin="round" stroke="#b5101f" stroke-width="2.4" stroke-dasharray="2.3 2.55"/>
<path d="M24.08,327.94 L26.97,327.95 L29.87,327.96 L32.77,327.97 L35.66,327.98 L38.56,327.98 L41.46,327.99 L44.35,327.99 L47.25,327.99 L50.15,327.98 L53.04,327.98 L55.94,327.97 L58.84,327.96 L61.74,327.95 L64.63,327.93 L67.53,327.91 L70.43,327.87 L73.32,327.83 L76.22,327.77 L79.12,327.68 L82.01,327.54 L84.91,327.3 L87.81,326.93 L90.71,326.37 L93.6,325.55 L96.5,324.42 L99.4,323.02 L102.29,321.55 L105.19,320.37 L108.09,319.99 L110.98,320.7 L113.88,322.22 L116.78,324.04 L119.68,325.77 L122.57,327.22 L125.47,328.34 L128.37,329.15 L131.26,329.74 L134.16,330.16 L137.06,330.49 L139.95,330.75 L142.85,330.99 L145.75,331.21 L148.64,331.41 L151.54,331.61 L154.44,331.8 L157.34,331.98 L160.23,332.14 L163.13,332.3 L166.03,332.44 L168.92,332.57 L171.82,332.68 L174.72,332.79 L177.61,332.9 L180.51,333 L183.41,333.1 L186.31,333.21 L189.2,333.33 L192.1,333.46 L195,333.6 L197.89,333.75 L200.79,333.9 L203.69,334.06 L206.58,334.23 L209.48,334.39 L212.38,334.55 L215.28,334.71 L218.17,334.86 L221.07,335.01 L223.97,335.15 L226.86,335.27 L229.76,335.4 L232.66,335.53 L235.55,335.66 L238.45,335.78 L241.35,335.9 L244.24,336.02 L247.14,336.12 L250.04,336.22 L252.94,336.31 L255.83,336.39 L258.73,336.46 L261.63,336.51 L264.52,336.56 L267.42,336.61 L270.32,336.66 L273.21,336.7 L276.11,336.74 L279.01,336.78 L281.91,336.81 L284.8,336.84 L287.7,336.87 L290.6,336.89 L293.49,336.9 L296.39,336.91 L299.29,336.91 L302.18,336.9 L305.08,336.89 L307.98,336.88 L310.88,336.87 L313.77,336.85 L316.67,336.83 L319.57,336.8 L322.46,336.77 L325.36,336.73 L328.26,336.69 L331.15,336.63 L334.05,336.57 L336.95,336.48 L339.84,336.37 L342.74,336.22 L345.64,336.01 L348.54,335.71 L351.43,335.3 L354.33,334.74 L357.23,333.99 L360.12,333.03 L363.02,331.83 L365.92,330.41 L368.81,328.84 L371.71,327.23 L374.61,325.82 L377.51,324.86 L380.4,324.6 L383.3,325.29 L386.2,326.85 L389.09,328.86 L391.99,330.95 L394.89,332.89 L397.78,334.59 L400.68,336.06 L403.58,337.31 L406.48,338.35 L409.37,339.23 L412.27,339.98 L415.17,340.61 L418.06,341.19 L420.96,341.78 L423.86,342.35 L426.75,342.89 L429.65,343.36 L432.55,343.74" fill="none" stroke-linejoin="round" stroke="#00008f" stroke-width="2.6"/>
<polyline points="24.08,327.76 26.97,327.74 29.87,327.72 32.77,327.7 35.66,327.66 38.56,327.62 41.46,327.57 44.35,327.51 47.25,327.44 50.15,327.36 53.04,327.27 55.94,327.16 58.84,327.04 61.74,326.89 64.63,326.73 67.53,326.53 70.43,326.31 73.32,326.04 76.22,325.72 79.12,325.33 82.01,324.84 84.91,324.2 87.81,323.36 90.71,322.25 93.6,320.77 96.5,318.87 99.4,316.54 102.29,313.94 105.19,311.35 108.09,309.19 110.98,307.52 113.88,305.71 116.78,302.64 119.68,296.97 122.57,287.25 125.47,271.94 128.37,249.75 131.26,220.21 134.16,184.38 137.06,146.04 139.95,113.01 142.85,96.5 145.75,106.76 148.64,142.62 151.54,187.38 154.44,228.72 157.34,261.42 160.23,284.69 163.13,300.01 166.03,309.61 168.92,315.6 171.82,319.48 174.72,322.16 177.61,324.14 180.51,325.69 183.41,326.95 186.31,327.99 189.2,328.87 192.1,329.64 195,330.31 197.89,330.9 200.79,331.44 203.69,331.92 206.58,332.36 209.48,332.76 212.38,333.13 215.28,333.47 218.17,333.78 221.07,334.06 223.97,334.31 226.86,334.54 229.76,334.75 232.66,334.96 235.55,335.15 238.45,335.34 241.35,335.51 244.24,335.67 247.14,335.82 250.04,335.95 252.94,336.07 255.83,336.17 258.73,336.25 261.63,336.32 264.52,336.38 267.42,336.44 270.32,336.49 273.21,336.53 276.11,336.57 279.01,336.6 281.91,336.63 284.8,336.64 287.7,336.65 290.6,336.64 293.49,336.63 296.39,336.61 299.29,336.57 302.18,336.52 305.08,336.47 307.98,336.4 310.88,336.32 313.77,336.22 316.67,336.11 319.57,335.99 322.46,335.84 325.36,335.67 328.26,335.47 331.15,335.23 334.05,334.96 336.95,334.63 339.84,334.23 342.74,333.72 345.64,333.07 348.54,332.2 351.43,331.05 354.33,329.53 357.23,327.55 360.12,325.06 363.02,322.06 365.92,318.65 368.81,315.03 371.71,311.59 374.61,308.72 377.51,306.6 380.4,305.08 383.3,303.85 386.2,302.16 389.09,298.65 391.99,291.57 394.89,278.84 397.78,258.27 400.68,228.02 403.58,187.5 406.48,138.64 409.37,87.79 412.27,47.68 415.17,34.58 418.06,58.8 420.96,109.5 423.86,166.56 426.75,217.35 429.65,256.95 432.55,285 435.44,303.48 438.34,315.18 441.24,322.58 444.14,327.43 447.03,330.82 449.93,333.35 452.83,335.31 455.72,336.89 458.62,338.2 461.52,339.29 464.41,340.21 467.31,341 470.21,341.7 473.11,342.31 476,342.84 478.9,343.32 481.8,343.74 484.69,344.11 487.59,344.46 490.49,344.77 493.38,345.05 496.28,345.31 499.18,345.55 502.08,345.77 504.97,345.98 507.87,346.17 510.77,346.36 513.66,346.53" fill="none" stroke-linejoin="round" stroke="#731573" stroke-width="2"/>
<line x1="370.84" y1="1.1" x2="370.84" y2="359.5" stroke="#000" stroke-width="2.4" stroke-dasharray="5.6 4.5"/>
<line x1="380.11" y1="1.1" x2="380.11" y2="359.5" stroke="#000" stroke-width="2.4" stroke-dasharray="5.6 4.5"/>
<line x1="414.88" y1="1.1" x2="414.88" y2="359.5" stroke="#000" stroke-width="2.4" stroke-dasharray="5.6 4.5"/>
</g>
<rect x="399.6" y="6.1" width="87.43" height="22.1" fill="#fff"/>
<text x="401.6" y="23.2" fill="#c41e24" color="#c41e24" font-size="18.3">529.68 eV</text>
<rect x="304.2" y="216.8" width="87.43" height="24.1" fill="#fff"/>
<text x="306.2" y="235.9" fill="#2020a8" color="#2020a8" font-size="18.3">530.88 eV</text>
<rect x="283.9" y="272.5" width="77.26" height="23" fill="#fff"/>
<text x="285.9" y="290.5" fill="#238b23" color="#238b23" font-size="18.3">531.2 eV</text>
<path d="M492.52,359.5v-4M492.52,1.1v4M478.03,359.5v-4M478.03,1.1v4M463.55,359.5v-7M463.55,1.1v7M449.06,359.5v-4M449.06,1.1v4M434.58,359.5v-4M434.58,1.1v4M420.09,359.5v-4M420.09,1.1v4M405.61,359.5v-7M405.61,1.1v7M391.12,359.5v-4M391.12,1.1v4M376.64,359.5v-4M376.64,1.1v4M362.15,359.5v-4M362.15,1.1v4M347.67,359.5v-7M347.67,1.1v7M333.18,359.5v-4M333.18,1.1v4M318.7,359.5v-4M318.7,1.1v4M304.21,359.5v-4M304.21,1.1v4M289.73,359.5v-7M289.73,1.1v7M275.24,359.5v-4M275.24,1.1v4M260.76,359.5v-4M260.76,1.1v4M246.27,359.5v-4M246.27,1.1v4M231.79,359.5v-7M231.79,1.1v7M217.3,359.5v-4M217.3,1.1v4M202.82,359.5v-4M202.82,1.1v4M188.33,359.5v-4M188.33,1.1v4M173.85,359.5v-7M173.85,1.1v7M159.36,359.5v-4M159.36,1.1v4M144.88,359.5v-4M144.88,1.1v4M130.39,359.5v-4M130.39,1.1v4M115.91,359.5v-7M115.91,1.1v7M101.42,359.5v-4M101.42,1.1v4M86.94,359.5v-4M86.94,1.1v4M72.45,359.5v-4M72.45,1.1v4M57.97,359.5v-7M57.97,1.1v7M43.48,359.5v-4M43.48,1.1v4M29,10.06h4M507,10.06h-4M29,19.02h4M507,19.02h-4M29,27.98h4M507,27.98h-4M29,36.94h7M507,36.94h-7M29,45.9h4M507,45.9h-4M29,54.86h4M507,54.86h-4M29,63.82h4M507,63.82h-4M29,72.78h7M507,72.78h-7M29,81.74h4M507,81.74h-4M29,90.7h4M507,90.7h-4M29,99.66h4M507,99.66h-4M29,108.62h7M507,108.62h-7M29,117.58h4M507,117.58h-4M29,126.54h4M507,126.54h-4M29,135.5h4M507,135.5h-4M29,144.46h7M507,144.46h-7M29,153.42h4M507,153.42h-4M29,162.38h4M507,162.38h-4M29,171.34h4M507,171.34h-4M29,180.3h7M507,180.3h-7M29,189.26h4M507,189.26h-4M29,198.22h4M507,198.22h-4M29,207.18h4M507,207.18h-4M29,216.14h7M507,216.14h-7M29,225.1h4M507,225.1h-4M29,234.06h4M507,234.06h-4M29,243.02h4M507,243.02h-4M29,251.98h7M507,251.98h-7M29,260.94h4M507,260.94h-4M29,269.9h4M507,269.9h-4M29,278.86h4M507,278.86h-4M29,287.82h7M507,287.82h-7M29,296.78h4M507,296.78h-4M29,305.74h4M507,305.74h-4M29,314.7h4M507,314.7h-4M29,323.66h7M507,323.66h-7M29,332.62h4M507,332.62h-4M29,341.58h4M507,341.58h-4M29,350.54h4M507,350.54h-4" stroke="#000" stroke-width="1.5" fill="none"/>
<rect x="29" y="1.1" width="478" height="358.4" fill="none" stroke="#000" stroke-width="1.7"/>
<text x="57.97" y="378.6" font-size="18.6" text-anchor="middle">542</text>
<text x="115.91" y="378.6" font-size="18.6" text-anchor="middle">540</text>
<text x="173.85" y="378.6" font-size="18.6" text-anchor="middle">538</text>
<text x="231.79" y="378.6" font-size="18.6" text-anchor="middle">536</text>
<text x="289.73" y="378.6" font-size="18.6" text-anchor="middle">534</text>
<text x="347.67" y="378.6" font-size="18.6" text-anchor="middle">532</text>
<text x="405.61" y="378.6" font-size="18.6" text-anchor="middle">530</text>
<text x="463.55" y="378.6" font-size="18.6" text-anchor="middle">528</text>
<text x="268" y="404.7" font-size="26.3" text-anchor="middle">Binding Energy (eV)</text>
<text transform="translate(19.3,180.3) rotate(-90)" x="0" y="0" font-size="26.3" text-anchor="middle">Intensity (arb. units)</text>
<text x="40.3" y="35.6" font-size="31.8" style="stroke-width:0">(a)</text>
<circle cx="212.85" cy="28.5" r="2.9" fill="none" stroke="#000" stroke-width="1.3"/>
<text x="238.8" y="34.7" font-size="18.4">Data</text>
<line x1="191.2" y1="50.9" x2="234.5" y2="50.9" stroke="#b5101f" stroke-width="2.4" stroke-dasharray="2.3 2.55"/>
<text x="238.8" y="57.1" font-size="18.4">Sb(Se) 3d</text>
<line x1="191.2" y1="73.3" x2="234.5" y2="73.3" stroke="#00008f" stroke-width="2.6"/>
<text x="238.8" y="79.5" font-size="18.4">Sb(O) 3d</text>
<line x1="191.2" y1="95.7" x2="234.5" y2="95.7" stroke="#15801a" stroke-width="2.4" stroke-dasharray="5.8 4.4"/>
<text x="238.8" y="101.9" font-size="18.4">O(Sb) 1s</text>
<line x1="191.2" y1="118.5" x2="234.5" y2="118.5" stroke="#6a6a6a" stroke-width="1"/>
<text x="238.8" y="124.3" font-size="18.4">Background</text>
<line x1="191.2" y1="140.5" x2="234.5" y2="140.5" stroke="#731573" stroke-width="2"/>
<text x="238.8" y="146.7" font-size="18.4">Envelope</text>
<clipPath id="clipb"><rect x="31.7" y="444.3" width="477.90000000000003" height="358.49999999999994"/></clipPath>
<g clip-path="url(#clipb)">
<polygon points="27.52,778.33 30.51,778.31 33.49,778.28 36.48,778.23 39.47,778.17 42.45,778.08 45.44,777.98 48.43,777.84 51.41,777.67 54.4,777.46 57.39,777.2 60.37,776.88 63.36,776.48 66.35,775.96 69.33,775.28 72.32,774.34 75.31,773.02 78.3,771.09 81.28,768.21 84.27,763.96 87.26,757.79 90.24,749.13 93.23,737.5 96.22,722.65 99.2,704.76 102.19,684.59 105.18,663.61 108.16,643.89 111.15,626.82 114.14,617.24 117.12,631.27 120.11,650.94 123.1,672.93 126.09,694.86 129.07,714.67 132.06,731.24 135.05,744.27 138.03,753.99 141.02,760.94 144.01,765.79 146.99,769.14 149.98,771.49 152.97,773.19 155.95,774.48 158.94,775.5 161.93,776.33 164.91,777.04 167.9,777.65 170.89,778.18 173.88,778.65 176.86,779.07 179.85,779.44 182.84,779.79 185.82,780.1 188.81,780.38 191.8,780.64 194.78,780.89 197.77,781.11 200.76,781.32 203.74,781.52 206.73,781.7 209.72,781.88 212.7,782.04 215.69,782.2 218.68,782.35 221.67,782.49 224.65,782.62 227.64,782.75 230.63,782.87 233.61,782.99 236.6,783.1 239.59,783.2 242.57,783.3 245.56,783.4 248.55,783.49 251.53,783.58 254.52,783.66 257.51,783.74 260.49,783.81 263.48,783.88 266.47,783.94 269.46,784 272.44,784.06 275.43,784.11 278.42,784.15 281.4,784.19 284.39,784.23 287.38,784.26 290.36,784.29 293.35,784.3 296.34,784.31 299.32,784.31 302.31,784.3 305.3,784.27 308.28,784.23 311.27,784.16 314.26,784.07 317.25,783.96 320.23,783.8 323.22,783.61 326.21,783.37 329.19,783.06 332.18,782.68 335.17,782.21 338.15,781.63 341.14,780.91 344.13,780.03 347.11,778.93 350.1,777.54 353.09,775.76 356.07,773.42 359.06,770.24 362.05,765.85 365.04,759.66 368.02,750.94 371.01,738.79 374,722.32 376.98,700.77 379.97,673.85 382.96,642.16 385.94,607.8 388.93,575.33 391.92,552.04 394.9,545.54 397.89,560.08 400.88,590.49 403.86,626.92 406.85,662.08 409.84,692.3 412.83,716.38 415.81,734.53 418.8,747.62 421.79,756.82 424.77,763.22 427.76,767.73 430.75,771 433.73,773.46 436.72,775.39 439.71,776.95 442.69,778.24 445.68,779.33 448.67,780.25 451.65,781.04 454.64,781.73 457.63,782.33 460.62,782.85 463.6,783.31 466.59,783.72 469.58,784.08 472.56,784.4 475.55,784.69 478.54,784.96 481.52,785.19 484.51,785.41 487.5,785.6 490.48,785.78 493.47,785.95 496.46,786.1 499.44,786.24 502.43,786.37 505.42,786.49 508.41,786.61 511.39,786.71 514.38,786.81 514.38,788.62 511.39,788.61 508.41,788.6 505.42,788.58 502.43,788.58 499.44,788.57 496.46,788.56 493.47,788.55 490.48,788.54 487.5,788.53 484.51,788.52 481.52,788.52 478.54,788.51 475.55,788.5 472.56,788.49 469.58,788.48 466.59,788.48 463.6,788.47 460.62,788.46 457.63,788.45 454.64,788.43 451.65,788.42 448.67,788.41 445.68,788.39 442.69,788.38 439.71,788.36 436.72,788.35 433.73,788.33 430.75,788.31 427.76,788.28 424.77,788.24 421.79,788.19 418.8,788.13 415.81,788.06 412.83,787.98 409.84,787.89 406.85,787.81 403.86,787.72 400.88,787.63 397.89,787.53 394.9,787.42 391.92,787.3 388.93,787.17 385.94,787.03 382.96,786.91 379.97,786.8 376.98,786.69 374,786.59 371.01,786.49 368.02,786.39 365.04,786.29 362.05,786.19 359.06,786.1 356.07,786.01 353.09,785.92 350.1,785.84 347.11,785.76 344.13,785.69 341.14,785.62 338.15,785.56 335.17,785.51 332.18,785.45 329.19,785.4 326.21,785.35 323.22,785.3 320.23,785.26 317.25,785.21 314.26,785.17 311.27,785.13 308.28,785.09 305.3,785.05 302.31,785.02 299.32,784.98 296.34,784.94 293.35,784.91 290.36,784.87 287.38,784.84 284.39,784.8 281.4,784.76 278.42,784.73 275.43,784.69 272.44,784.65 269.46,784.61 266.47,784.57 263.48,784.52 260.49,784.48 257.51,784.43 254.52,784.38 251.53,784.33 248.55,784.27 245.56,784.22 242.57,784.16 239.59,784.1 236.6,784.03 233.61,783.97 230.63,783.9 227.64,783.84 224.65,783.77 221.67,783.7 218.68,783.62 215.69,783.55 212.7,783.48 209.72,783.4 206.73,783.32 203.74,783.25 200.76,783.17 197.77,783.09 194.78,783 191.8,782.92 188.81,782.84 185.82,782.75 182.84,782.67 179.85,782.59 176.86,782.5 173.88,782.41 170.89,782.33 167.9,782.24 164.91,782.15 161.93,782.06 158.94,781.97 155.95,781.87 152.97,781.77 149.98,781.67 146.99,781.56 144.01,781.45 141.02,781.34 138.03,781.22 135.05,781.08 132.06,780.94 129.07,780.79 126.09,780.63 123.1,780.48 120.11,780.32 117.12,780.18 114.14,780.05 111.15,779.92 108.16,779.8 105.18,779.68 102.19,779.56 99.2,779.45 96.22,779.35 93.23,779.27 90.24,779.2 87.26,779.15 84.27,779.11 81.28,779.07 78.3,779.03 75.31,778.99 72.32,778.96 69.33,778.93 66.35,778.9 63.36,778.87 60.37,778.85 57.39,778.82 54.4,778.8 51.41,778.77 48.43,778.75 45.44,778.72 42.45,778.7 39.47,778.67 36.48,778.65 33.49,778.62 30.51,778.59 27.52,778.56" fill="#0000c8" fill-opacity="0.2"/>
<polygon points="27.52,778.56 30.51,778.59 33.49,778.62 36.48,778.65 39.47,778.67 42.45,778.7 45.44,778.72 48.43,778.75 51.41,778.77 54.4,778.8 57.39,778.82 60.37,778.85 63.36,778.87 66.35,778.9 69.33,778.93 72.32,778.96 75.31,778.99 78.3,779.03 81.28,779.07 84.27,779.11 87.26,779.15 90.24,779.2 93.23,779.27 96.22,779.35 99.2,779.45 102.19,779.56 105.18,779.68 108.16,779.8 111.15,779.92 114.14,780.05 117.12,780.18 120.11,780.32 123.1,780.48 126.09,780.63 129.07,780.79 132.06,780.94 135.05,781.08 138.03,781.22 141.02,781.34 144.01,781.45 146.99,781.56 149.98,781.67 152.97,781.77 155.95,781.87 158.94,781.97 161.93,782.06 164.91,782.15 167.9,782.24 170.89,782.33 173.88,782.41 176.86,782.5 179.85,782.59 182.84,782.67 185.82,782.75 188.81,782.84 191.8,782.92 194.78,783 197.77,783.09 200.76,783.17 203.74,783.25 206.73,783.32 209.72,783.4 212.7,783.48 215.69,783.55 218.68,783.62 221.67,783.7 224.65,783.77 227.64,783.84 230.63,783.9 233.61,783.97 236.6,784.03 239.59,784.09 242.57,784.16 245.56,784.21 248.55,784.27 251.53,784.32 254.52,784.37 257.51,784.42 260.49,784.47 263.48,784.51 266.47,784.55 269.46,784.59 272.44,784.62 275.43,784.65 278.42,784.68 281.4,784.71 284.39,784.73 287.38,784.75 290.36,784.76 293.35,784.77 296.34,784.77 299.32,784.76 302.31,784.75 305.3,784.73 308.28,784.69 311.27,784.64 314.26,784.57 317.25,784.48 320.23,784.36 323.22,784.21 326.21,784.02 329.19,783.79 332.18,783.49 335.17,783.12 338.15,782.66 341.14,782.08 344.13,781.35 347.11,780.42 350.1,779.22 353.09,777.63 356.07,775.45 359.06,772.43 362.05,768.14 365.04,762.08 368.02,753.65 371.01,742.28 374,727.67 376.98,710.33 379.97,692.52 382.96,679.3 385.94,676.99 388.93,691.89 391.92,715.11 394.9,736.46 397.89,752.59 400.88,763.68 403.86,770.94 406.85,775.64 409.84,778.76 412.83,780.93 415.81,782.51 418.8,783.7 421.79,784.63 424.77,785.36 427.76,785.94 430.75,786.4 433.73,786.77 436.72,787.07 439.71,787.31 442.69,787.52 445.68,787.69 448.67,787.83 451.65,787.95 454.64,788.05 457.63,788.13 460.62,788.2 463.6,788.25 466.59,788.3 469.58,788.35 472.56,788.38 475.55,788.41 478.54,788.44 481.52,788.46 484.51,788.48 487.5,788.5 490.48,788.51 493.47,788.53 496.46,788.54 499.44,788.55 502.43,788.56 505.42,788.58 508.41,788.59 511.39,788.6 514.38,788.61 514.38,788.62 511.39,788.61 508.41,788.6 505.42,788.58 502.43,788.58 499.44,788.57 496.46,788.56 493.47,788.55 490.48,788.54 487.5,788.53 484.51,788.52 481.52,788.52 478.54,788.51 475.55,788.5 472.56,788.49 469.58,788.48 466.59,788.48 463.6,788.47 460.62,788.46 457.63,788.45 454.64,788.43 451.65,788.42 448.67,788.41 445.68,788.39 442.69,788.38 439.71,788.36 436.72,788.35 433.73,788.33 430.75,788.31 427.76,788.28 424.77,788.24 421.79,788.19 418.8,788.13 415.81,788.06 412.83,787.98 409.84,787.89 406.85,787.81 403.86,787.72 400.88,787.63 397.89,787.53 394.9,787.42 391.92,787.3 388.93,787.17 385.94,787.03 382.96,786.91 379.97,786.8 376.98,786.69 374,786.59 371.01,786.49 368.02,786.39 365.04,786.29 362.05,786.19 359.06,786.1 356.07,786.01 353.09,785.92 350.1,785.84 347.11,785.76 344.13,785.69 341.14,785.62 338.15,785.56 335.17,785.51 332.18,785.45 329.19,785.4 326.21,785.35 323.22,785.3 320.23,785.26 317.25,785.21 314.26,785.17 311.27,785.13 308.28,785.09 305.3,785.05 302.31,785.02 299.32,784.98 296.34,784.94 293.35,784.91 290.36,784.87 287.38,784.84 284.39,784.8 281.4,784.76 278.42,784.73 275.43,784.69 272.44,784.65 269.46,784.61 266.47,784.57 263.48,784.52 260.49,784.48 257.51,784.43 254.52,784.38 251.53,784.33 248.55,784.27 245.56,784.22 242.57,784.16 239.59,784.1 236.6,784.03 233.61,783.97 230.63,783.9 227.64,783.84 224.65,783.77 221.67,783.7 218.68,783.62 215.69,783.55 212.7,783.48 209.72,783.4 206.73,783.32 203.74,783.25 200.76,783.17 197.77,783.09 194.78,783 191.8,782.92 188.81,782.84 185.82,782.75 182.84,782.67 179.85,782.59 176.86,782.5 173.88,782.41 170.89,782.33 167.9,782.24 164.91,782.15 161.93,782.06 158.94,781.97 155.95,781.87 152.97,781.77 149.98,781.67 146.99,781.56 144.01,781.45 141.02,781.34 138.03,781.22 135.05,781.08 132.06,780.94 129.07,780.79 126.09,780.63 123.1,780.48 120.11,780.32 117.12,780.18 114.14,780.05 111.15,779.92 108.16,779.8 105.18,779.68 102.19,779.56 99.2,779.45 96.22,779.35 93.23,779.27 90.24,779.2 87.26,779.15 84.27,779.11 81.28,779.07 78.3,779.03 75.31,778.99 72.32,778.96 69.33,778.93 66.35,778.9 63.36,778.87 60.37,778.85 57.39,778.82 54.4,778.8 51.41,778.77 48.43,778.75 45.44,778.72 42.45,778.7 39.47,778.67 36.48,778.65 33.49,778.62 30.51,778.59 27.52,778.56" fill="#008800" fill-opacity="0.2"/>
<g fill="none" stroke="#000" stroke-width="1.45"><circle cx="27.52" cy="778.89" r="2.9"/><circle cx="30.51" cy="778.86" r="2.9"/><circle cx="33.49" cy="777.76" r="2.9"/><circle cx="36.48" cy="777.75" r="2.9"/><circle cx="39.47" cy="778.59" r="2.9"/><circle cx="42.45" cy="778.39" r="2.9"/><circle cx="45.44" cy="778.21" r="2.9"/><circle cx="48.43" cy="777.64" r="2.9"/><circle cx="51.41" cy="777.83" r="2.9"/><circle cx="54.4" cy="777.62" r="2.9"/><circle cx="57.39" cy="777.34" r="2.9"/><circle cx="60.37" cy="776.51" r="2.9"/><circle cx="63.36" cy="776.44" r="2.9"/><circle cx="66.35" cy="775.88" r="2.9"/><circle cx="69.33" cy="775.6" r="2.9"/><circle cx="72.32" cy="775.01" r="2.9"/><circle cx="75.31" cy="773.64" r="2.9"/><circle cx="78.3" cy="771.23" r="2.9"/><circle cx="81.28" cy="768.25" r="2.9"/><circle cx="84.27" cy="763.81" r="2.9"/><circle cx="87.26" cy="757.39" r="2.9"/><circle cx="90.24" cy="748.77" r="2.9"/><circle cx="93.23" cy="737.72" r="2.9"/><circle cx="96.22" cy="722.79" r="2.9"/><circle cx="99.2" cy="705.13" r="2.9"/><circle cx="102.19" cy="685.86" r="2.9"/><circle cx="105.18" cy="665.02" r="2.9"/><circle cx="108.16" cy="646.78" r="2.9"/><circle cx="111.15" cy="633.68" r="2.9"/><circle cx="114.14" cy="629.53" r="2.9"/><circle cx="117.12" cy="636.94" r="2.9"/><circle cx="120.11" cy="652.91" r="2.9"/><circle cx="123.1" cy="674.16" r="2.9"/><circle cx="126.09" cy="696.18" r="2.9"/><circle cx="129.07" cy="715.35" r="2.9"/><circle cx="132.06" cy="731.19" r="2.9"/><circle cx="135.05" cy="744.98" r="2.9"/><circle cx="138.03" cy="754.52" r="2.9"/><circle cx="141.02" cy="761.35" r="2.9"/><circle cx="144.01" cy="766.37" r="2.9"/><circle cx="146.99" cy="769.52" r="2.9"/><circle cx="149.98" cy="771.86" r="2.9"/><circle cx="152.97" cy="773" r="2.9"/><circle cx="155.95" cy="774.99" r="2.9"/><circle cx="158.94" cy="775.93" r="2.9"/><circle cx="161.93" cy="775.74" r="2.9"/><circle cx="164.91" cy="777.08" r="2.9"/><circle cx="167.9" cy="777.56" r="2.9"/><circle cx="170.89" cy="777.72" r="2.9"/><circle cx="173.88" cy="778.22" r="2.9"/><circle cx="176.86" cy="778.59" r="2.9"/><circle cx="179.85" cy="779.52" r="2.9"/><circle cx="182.84" cy="779.41" r="2.9"/><circle cx="185.82" cy="780.19" r="2.9"/><circle cx="188.81" cy="779.98" r="2.9"/><circle cx="191.8" cy="780.93" r="2.9"/><circle cx="194.78" cy="781.25" r="2.9"/><circle cx="197.77" cy="780.98" r="2.9"/><circle cx="200.76" cy="781.35" r="2.9"/><circle cx="203.74" cy="781.99" r="2.9"/><circle cx="206.73" cy="781.95" r="2.9"/><circle cx="209.72" cy="781.85" r="2.9"/><circle cx="212.7" cy="781.7" r="2.9"/><circle cx="215.69" cy="781.98" r="2.9"/><circle cx="218.68" cy="782.58" r="2.9"/><circle cx="221.67" cy="782.09" r="2.9"/><circle cx="224.65" cy="783.11" r="2.9"/><circle cx="227.64" cy="782.47" r="2.9"/><circle cx="230.63" cy="783.37" r="2.9"/><circle cx="233.61" cy="782.76" r="2.9"/><circle cx="236.6" cy="783.65" r="2.9"/><circle cx="239.59" cy="783.45" r="2.9"/><circle cx="242.57" cy="783.31" r="2.9"/><circle cx="245.56" cy="783.42" r="2.9"/><circle cx="248.55" cy="783.67" r="2.9"/><circle cx="251.53" cy="783.68" r="2.9"/><circle cx="254.52" cy="783.43" r="2.9"/><circle cx="257.51" cy="783.38" r="2.9"/><circle cx="260.49" cy="783.82" r="2.9"/><circle cx="263.48" cy="784.39" r="2.9"/><circle cx="266.47" cy="784.08" r="2.9"/><circle cx="269.46" cy="783.47" r="2.9"/><circle cx="272.44" cy="784.42" r="2.9"/><circle cx="275.43" cy="784.35" r="2.9"/><circle cx="278.42" cy="784.6" r="2.9"/><circle cx="281.4" cy="783.77" r="2.9"/><circle cx="284.39" cy="784.46" r="2.9"/><circle cx="287.38" cy="783.65" r="2.9"/><circle cx="290.36" cy="784.36" r="2.9"/><circle cx="293.35" cy="783.9" r="2.9"/><circle cx="296.34" cy="783.81" r="2.9"/><circle cx="299.32" cy="784.55" r="2.9"/><circle cx="302.31" cy="783.56" r="2.9"/><circle cx="305.3" cy="783.97" r="2.9"/><circle cx="308.28" cy="784.25" r="2.9"/><circle cx="311.27" cy="783.37" r="2.9"/><circle cx="314.26" cy="783.13" r="2.9"/><circle cx="317.25" cy="783.68" r="2.9"/><circle cx="320.23" cy="782.82" r="2.9"/><circle cx="323.22" cy="782.79" r="2.9"/><circle cx="326.21" cy="781.48" r="2.9"/><circle cx="329.19" cy="781.29" r="2.9"/><circle cx="332.18" cy="780.33" r="2.9"/><circle cx="335.17" cy="780.04" r="2.9"/><circle cx="338.15" cy="778.23" r="2.9"/><circle cx="341.14" cy="777.92" r="2.9"/><circle cx="344.13" cy="775.12" r="2.9"/><circle cx="347.11" cy="773.87" r="2.9"/><circle cx="350.1" cy="770.35" r="2.9"/><circle cx="353.09" cy="767.17" r="2.9"/><circle cx="356.07" cy="763.24" r="2.9"/><circle cx="359.06" cy="756.16" r="2.9"/><circle cx="362.05" cy="747.42" r="2.9"/><circle cx="365.04" cy="735.68" r="2.9"/><circle cx="368.02" cy="718.06" r="2.9"/><circle cx="371.01" cy="694.03" r="2.9"/><circle cx="374" cy="663.99" r="2.9"/><circle cx="376.98" cy="623.98" r="2.9"/><circle cx="379.97" cy="579.02" r="2.9"/><circle cx="382.96" cy="534.36" r="2.9"/><circle cx="385.94" cy="497.89" r="2.9"/><circle cx="388.93" cy="480.34" r="2.9"/><circle cx="391.92" cy="479.39" r="2.9"/><circle cx="394.9" cy="494.37" r="2.9"/><circle cx="397.89" cy="524.57" r="2.9"/><circle cx="400.88" cy="566.47" r="2.9"/><circle cx="403.86" cy="610.45" r="2.9"/><circle cx="406.85" cy="650.19" r="2.9"/><circle cx="409.84" cy="683.63" r="2.9"/><circle cx="412.83" cy="709.61" r="2.9"/><circle cx="415.81" cy="729.38" r="2.9"/><circle cx="418.8" cy="743.41" r="2.9"/><circle cx="421.79" cy="753.18" r="2.9"/><circle cx="424.77" cy="759.95" r="2.9"/><circle cx="427.76" cy="765.49" r="2.9"/><circle cx="430.75" cy="768.74" r="2.9"/><circle cx="433.73" cy="771.23" r="2.9"/><circle cx="436.72" cy="773.79" r="2.9"/><circle cx="439.71" cy="775.99" r="2.9"/><circle cx="442.69" cy="776.45" r="2.9"/><circle cx="445.68" cy="778.09" r="2.9"/><circle cx="448.67" cy="778.76" r="2.9"/><circle cx="451.65" cy="779.68" r="2.9"/><circle cx="454.64" cy="779.93" r="2.9"/><circle cx="457.63" cy="781.57" r="2.9"/><circle cx="460.62" cy="781.39" r="2.9"/><circle cx="463.6" cy="782.45" r="2.9"/><circle cx="466.59" cy="782.82" r="2.9"/><circle cx="469.58" cy="782.88" r="2.9"/><circle cx="472.56" cy="784" r="2.9"/><circle cx="475.55" cy="783.91" r="2.9"/><circle cx="478.54" cy="784.16" r="2.9"/><circle cx="481.52" cy="784.44" r="2.9"/><circle cx="484.51" cy="784.86" r="2.9"/><circle cx="487.5" cy="785.01" r="2.9"/><circle cx="490.48" cy="785.86" r="2.9"/><circle cx="493.47" cy="785.89" r="2.9"/><circle cx="496.46" cy="786.63" r="2.9"/><circle cx="499.44" cy="786.72" r="2.9"/><circle cx="502.43" cy="786.93" r="2.9"/><circle cx="505.42" cy="786.15" r="2.9"/><circle cx="508.41" cy="786.52" r="2.9"/><circle cx="511.39" cy="786.4" r="2.9"/><circle cx="514.38" cy="786.91" r="2.9"/></g>
<polyline points="27.52,778.56 30.51,778.59 33.49,778.62 36.48,778.65 39.47,778.67 42.45,778.7 45.44,778.72 48.43,778.75 51.41,778.77 54.4,778.8 57.39,778.82 60.37,778.85 63.36,778.87 66.35,778.9 69.33,778.93 72.32,778.96 75.31,778.99 78.3,779.03 81.28,779.07 84.27,779.11 87.26,779.15 90.24,779.2 93.23,779.27 96.22,779.35 99.2,779.45 102.19,779.56 105.18,779.68 108.16,779.8 111.15,779.92 114.14,780.05 117.12,780.18 120.11,780.32 123.1,780.48 126.09,780.63 129.07,780.79 132.06,780.94 135.05,781.08 138.03,781.22 141.02,781.34 144.01,781.45 146.99,781.56 149.98,781.67 152.97,781.77 155.95,781.87 158.94,781.97 161.93,782.06 164.91,782.15 167.9,782.24 170.89,782.33 173.88,782.41 176.86,782.5 179.85,782.59 182.84,782.67 185.82,782.75 188.81,782.84 191.8,782.92 194.78,783 197.77,783.09 200.76,783.17 203.74,783.25 206.73,783.32 209.72,783.4 212.7,783.48 215.69,783.55 218.68,783.62 221.67,783.7 224.65,783.77 227.64,783.84 230.63,783.9 233.61,783.97 236.6,784.03 239.59,784.1 242.57,784.16 245.56,784.22 248.55,784.27 251.53,784.33 254.52,784.38 257.51,784.43 260.49,784.48 263.48,784.52 266.47,784.57 269.46,784.61 272.44,784.65 275.43,784.69 278.42,784.73 281.4,784.76 284.39,784.8 287.38,784.84 290.36,784.87 293.35,784.91 296.34,784.94 299.32,784.98 302.31,785.02 305.3,785.05 308.28,785.09 311.27,785.13 314.26,785.17 317.25,785.21 320.23,785.26 323.22,785.3 326.21,785.35 329.19,785.4 332.18,785.45 335.17,785.51 338.15,785.56 341.14,785.62 344.13,785.69 347.11,785.76 350.1,785.84 353.09,785.92 356.07,786.01 359.06,786.1 362.05,786.19 365.04,786.29 368.02,786.39 371.01,786.49 374,786.59 376.98,786.69 379.97,786.8 382.96,786.91 385.94,787.03 388.93,787.17 391.92,787.3 394.9,787.42 397.89,787.53 400.88,787.63 403.86,787.72 406.85,787.81 409.84,787.89 412.83,787.98 415.81,788.06 418.8,788.13 421.79,788.19 424.77,788.24 427.76,788.28 430.75,788.31 433.73,788.33 436.72,788.35 439.71,788.36 442.69,788.38 445.68,788.39 448.67,788.41 451.65,788.42 454.64,788.43 457.63,788.45 460.62,788.46 463.6,788.47 466.59,788.48 469.58,788.48 472.56,788.49 475.55,788.5 478.54,788.51 481.52,788.52 484.51,788.52 487.5,788.53 490.48,788.54 493.47,788.55 496.46,788.56 499.44,788.57 502.43,788.58 505.42,788.58 508.41,788.6 511.39,788.61 514.38,788.62" fill="none" stroke="#6a6a6a" stroke-width="1"/>
<path d="M152.97,782.68 L155.95,782.74 L158.94,782.79 L161.93,782.82 L164.91,782.84M421.79,789.14 L424.77,789.17 L427.76,789.18 L430.75,789.17 L433.73,789.14 L436.72,789.08 L439.71,789 L442.69,788.89 L445.68,788.76 L448.67,788.63 L451.65,788.51 L454.64,788.44 L457.63,788.46 L460.62,788.55" fill="none" stroke-linejoin="round" stroke="#000" stroke-width="2.4" stroke-dasharray="2.3 2.55"/>
<path d="M317.25,784.48 L320.23,784.36 L323.22,784.21 L326.21,784.02 L329.19,783.79 L332.18,783.49 L335.17,783.12 L338.15,782.66 L341.14,782.08 L344.13,781.35 L347.11,780.42 L350.1,779.22 L353.09,777.63 L356.07,775.45 L359.06,772.43 L362.05,768.14 L365.04,762.08 L368.02,753.65 L371.01,742.28 L374,727.67 L376.98,710.33 L379.97,692.52 L382.96,679.3 L385.94,676.99 L388.93,691.89 L391.92,715.11 L394.9,736.46 L397.89,752.59 L400.88,763.68 L403.86,770.94 L406.85,775.64 L409.84,778.76 L412.83,780.93 L415.81,782.51 L418.8,783.7 L421.79,784.63 L424.77,785.36 L427.76,785.94 L430.75,786.4 L433.73,786.77 L436.72,787.07 L439.71,787.31 L442.69,787.52 L445.68,787.69 L448.67,787.83 L451.65,787.95 L454.64,788.05" fill="none" stroke-linejoin="round" stroke="#15801a" stroke-width="2.4" stroke-dasharray="5.8 4.4"/>
<path d="M27.52,778.33 L30.51,778.31 L33.49,778.28 L36.48,778.23 L39.47,778.17 L42.45,778.08 L45.44,777.98 L48.43,777.84 L51.41,777.67 L54.4,777.46 L57.39,777.2 L60.37,776.88 L63.36,776.48 L66.35,775.96 L69.33,775.28 L72.32,774.34 L75.31,773.02 L78.3,771.09 L81.28,768.21 L84.27,763.96 L87.26,757.79 L90.24,749.13 L93.23,737.5 L96.22,722.65 L99.2,704.76 L102.19,684.59 L105.18,663.61 L108.16,643.89 L111.15,626.82 L114.14,617.24 L117.12,631.27 L120.11,650.94 L123.1,672.93 L126.09,694.86 L129.07,714.67 L132.06,731.24 L135.05,744.27 L138.03,753.99 L141.02,760.94 L144.01,765.79 L146.99,769.14 L149.98,771.49 L152.97,773.19 L155.95,774.48 L158.94,775.5 L161.93,776.33 L164.91,777.04 L167.9,777.65 L170.89,778.18 L173.88,778.65 L176.86,779.07 L179.85,779.44 L182.84,779.79 L185.82,780.1 L188.81,780.38 L191.8,780.64 L194.78,780.89 L197.77,781.11 L200.76,781.32 L203.74,781.52 L206.73,781.7 L209.72,781.88 L212.7,782.04 L215.69,782.2 L218.68,782.35 L221.67,782.49 L224.65,782.62 L227.64,782.75 L230.63,782.87 L233.61,782.99 L236.6,783.1 L239.59,783.2 L242.57,783.3 L245.56,783.4 L248.55,783.49 L251.53,783.58 L254.52,783.66 L257.51,783.74 L260.49,783.81 L263.48,783.88 L266.47,783.94 L269.46,784 L272.44,784.06 L275.43,784.11 L278.42,784.15 L281.4,784.19 L284.39,784.23 L287.38,784.26 L290.36,784.29 L293.35,784.3 L296.34,784.31 L299.32,784.31 L302.31,784.3 L305.3,784.27 L308.28,784.23 L311.27,784.16 L314.26,784.07 L317.25,783.96 L320.23,783.8 L323.22,783.61 L326.21,783.37 L329.19,783.06 L332.18,782.68 L335.17,782.21 L338.15,781.63 L341.14,780.91 L344.13,780.03 L347.11,778.93 L350.1,777.54 L353.09,775.76 L356.07,773.42 L359.06,770.24 L362.05,765.85 L365.04,759.66 L368.02,750.94 L371.01,738.79 L374,722.32 L376.98,700.77 L379.97,673.85 L382.96,642.16 L385.94,607.8 L388.93,575.33 L391.92,552.04 L394.9,545.54 L397.89,560.08 L400.88,590.49 L403.86,626.92 L406.85,662.08 L409.84,692.3 L412.83,716.38 L415.81,734.53 L418.8,747.62 L421.79,756.82 L424.77,763.22 L427.76,767.73 L430.75,771 L433.73,773.46 L436.72,775.39 L439.71,776.95 L442.69,778.24 L445.68,779.33 L448.67,780.25 L451.65,781.04 L454.64,781.73 L457.63,782.33 L460.62,782.85 L463.6,783.31 L466.59,783.72 L469.58,784.08 L472.56,784.4 L475.55,784.69 L478.54,784.96 L481.52,785.19 L484.51,785.41 L487.5,785.6 L490.48,785.78 L493.47,785.95 L496.46,786.1 L499.44,786.24 L502.43,786.37 L505.42,786.49 L508.41,786.61 L511.39,786.71 L514.38,786.81" fill="none" stroke-linejoin="round" stroke="#00008f" stroke-width="2.6"/>
<polyline points="27.52,778.33 30.51,778.31 33.49,778.28 36.48,778.23 39.47,778.17 42.45,778.08 45.44,777.98 48.43,777.84 51.41,777.67 54.4,777.46 57.39,777.2 60.37,776.88 63.36,776.48 66.35,775.96 69.33,775.28 72.32,774.34 75.31,773.02 78.3,771.09 81.28,768.21 84.27,763.96 87.26,757.79 90.24,749.13 93.23,737.5 96.22,722.65 99.2,704.76 102.19,684.59 105.18,663.61 108.16,643.89 111.15,626.82 114.14,617.23 117.12,631.26 120.11,650.94 123.1,672.92 126.09,694.85 129.07,714.66 132.06,731.23 135.05,744.26 138.03,753.97 141.02,760.92 144.01,765.76 146.99,769.09 149.98,771.43 152.97,773.1 155.95,774.35 158.94,775.32 161.93,776.1 164.91,776.73 167.9,777.26 170.89,777.73 173.88,778.16 176.86,778.57 179.85,778.98 182.84,779.39 185.82,779.77 188.81,780.13 191.8,780.46 194.78,780.75 197.77,781.01 200.76,781.25 203.74,781.47 206.73,781.67 209.72,781.85 212.7,782.02 215.69,782.18 218.68,782.33 221.67,782.48 224.65,782.61 227.64,782.74 230.63,782.86 233.61,782.98 236.6,783.09 239.59,783.2 242.57,783.3 245.56,783.39 248.55,783.49 251.53,783.57 254.52,783.65 257.51,783.73 260.49,783.8 263.48,783.86 266.47,783.92 269.46,783.98 272.44,784.03 275.43,784.07 278.42,784.11 281.4,784.14 284.39,784.16 287.38,784.17 290.36,784.17 293.35,784.16 296.34,784.14 299.32,784.1 302.31,784.03 305.3,783.94 308.28,783.83 311.27,783.67 314.26,783.47 317.25,783.22 320.23,782.91 323.22,782.52 326.21,782.04 329.19,781.45 332.18,780.72 335.17,779.83 338.15,778.73 341.14,777.37 344.13,775.69 347.11,773.59 350.1,770.92 353.09,767.47 356.07,762.86 359.06,756.57 362.05,747.8 365.04,735.45 368.02,718.2 371.01,694.58 374,663.4 376.98,624.4 379.97,579.58 382.96,534.54 385.94,497.75 388.93,480.04 391.92,479.85 394.9,494.57 397.89,525.13 400.88,566.53 403.86,610.13 406.85,649.9 409.84,683.14 412.83,709.31 415.81,728.95 418.8,743.16 421.79,753.21 424.77,760.28 427.76,765.3 430.75,768.96 433.73,771.71 436.72,773.85 439.71,775.54 442.69,776.89 445.68,777.99 448.67,778.89 451.65,779.66 454.64,780.35 457.63,781.02 460.62,781.68 463.6,782.32 466.59,782.91 469.58,783.45 472.56,783.93 475.55,784.34 478.54,784.69 481.52,785 484.51,785.26 487.5,785.5 490.48,785.7 493.47,785.88 496.46,786.05 499.44,786.2 502.43,786.34 505.42,786.47 508.41,786.59 511.39,786.7 514.38,786.8" fill="none" stroke-linejoin="round" stroke="#731573" stroke-width="2"/>
<line x1="383.26" y1="444.3" x2="383.26" y2="802.8" stroke="#000" stroke-width="2.4" stroke-dasharray="5.6 4.5"/>
<line x1="394.01" y1="444.3" x2="394.01" y2="802.8" stroke="#000" stroke-width="2.4" stroke-dasharray="5.6 4.5"/>
<line x1="456.13" y1="444.3" x2="456.13" y2="802.8" stroke="#000" stroke-width="2.4" stroke-dasharray="5.6 4.5"/>
</g>
<rect x="396.1" y="449" width="87.43" height="24.2" fill="#fff"/>
<text x="398.1" y="467.2" fill="#2020a8" color="#2020a8" font-size="18.3">530.88 eV</text>
<rect x="278.5" y="667" width="87.43" height="23" fill="#fff"/>
<text x="280.5" y="685" fill="#238b23" color="#238b23" font-size="18.3">531.20 eV</text>
<rect x="418.5" y="718.8" width="87.43" height="21.4" fill="#fff"/>
<text x="420.5" y="735.6" fill="#000" color="#000" font-size="18.3">528.79 eV</text>
<path d="M494.67,802.8v-4M494.67,444.3v4M479.73,802.8v-7M479.73,444.3v7M464.8,802.8v-4M464.8,444.3v4M449.86,802.8v-4M449.86,444.3v4M434.93,802.8v-4M434.93,444.3v4M419.99,802.8v-7M419.99,444.3v7M405.06,802.8v-4M405.06,444.3v4M390.12,802.8v-4M390.12,444.3v4M375.19,802.8v-4M375.19,444.3v4M360.26,802.8v-7M360.26,444.3v7M345.32,802.8v-4M345.32,444.3v4M330.39,802.8v-4M330.39,444.3v4M315.45,802.8v-4M315.45,444.3v4M300.52,802.8v-7M300.52,444.3v7M285.58,802.8v-4M285.58,444.3v4M270.65,802.8v-4M270.65,444.3v4M255.72,802.8v-4M255.72,444.3v4M240.78,802.8v-7M240.78,444.3v7M225.85,802.8v-4M225.85,444.3v4M210.91,802.8v-4M210.91,444.3v4M195.98,802.8v-4M195.98,444.3v4M181.04,802.8v-7M181.04,444.3v7M166.11,802.8v-4M166.11,444.3v4M151.18,802.8v-4M151.18,444.3v4M136.24,802.8v-4M136.24,444.3v4M121.31,802.8v-7M121.31,444.3v7M106.37,802.8v-4M106.37,444.3v4M91.44,802.8v-4M91.44,444.3v4M76.5,802.8v-4M76.5,444.3v4M61.57,802.8v-7M61.57,444.3v7M46.63,802.8v-4M46.63,444.3v4M31.7,457.1h4M509.6,457.1h-4M31.7,469.91h4M509.6,469.91h-4M31.7,482.71h4M509.6,482.71h-4M31.7,495.51h7M509.6,495.51h-7M31.7,508.31h4M509.6,508.31h-4M31.7,521.12h4M509.6,521.12h-4M31.7,533.92h4M509.6,533.92h-4M31.7,546.72h7M509.6,546.72h-7M31.7,559.52h4M509.6,559.52h-4M31.7,572.33h4M509.6,572.33h-4M31.7,585.13h4M509.6,585.13h-4M31.7,597.93h7M509.6,597.93h-7M31.7,610.73h4M509.6,610.73h-4M31.7,623.54h4M509.6,623.54h-4M31.7,636.34h4M509.6,636.34h-4M31.7,649.14h7M509.6,649.14h-7M31.7,661.94h4M509.6,661.94h-4M31.7,674.75h4M509.6,674.75h-4M31.7,687.55h4M509.6,687.55h-4M31.7,700.35h7M509.6,700.35h-7M31.7,713.15h4M509.6,713.15h-4M31.7,725.96h4M509.6,725.96h-4M31.7,738.76h4M509.6,738.76h-4M31.7,751.56h7M509.6,751.56h-7M31.7,764.36h4M509.6,764.36h-4M31.7,777.16h4M509.6,777.16h-4M31.7,789.97h4M509.6,789.97h-4" stroke="#000" stroke-width="1.5" fill="none"/>
<rect x="31.7" y="444.3" width="477.90000000000003" height="358.49999999999994" fill="none" stroke="#000" stroke-width="1.7"/>
<text x="61.57" y="824.6" font-size="18.6" text-anchor="middle">542</text>
<text x="121.31" y="824.6" font-size="18.6" text-anchor="middle">540</text>
<text x="181.04" y="824.6" font-size="18.6" text-anchor="middle">538</text>
<text x="240.78" y="824.6" font-size="18.6" text-anchor="middle">536</text>
<text x="300.52" y="824.6" font-size="18.6" text-anchor="middle">534</text>
<text x="360.26" y="824.6" font-size="18.6" text-anchor="middle">532</text>
<text x="419.99" y="824.6" font-size="18.6" text-anchor="middle">530</text>
<text x="479.73" y="824.6" font-size="18.6" text-anchor="middle">528</text>
<text x="270.65" y="850.5" font-size="26.3" text-anchor="middle">Binding Energy (eV)</text>
<text transform="translate(22.0,623.55) rotate(-90)" x="0" y="0" font-size="26.3" text-anchor="middle">Intensity (arb. units)</text>
<text x="43.9" y="479.1" font-size="31.8" style="stroke-width:0">(b)</text>
<circle cx="219.25" cy="473.1" r="2.9" fill="none" stroke="#000" stroke-width="1.3"/>
<text x="245.5" y="479.3" font-size="18.4">Data</text>
<line x1="198.0" y1="495.5" x2="240.5" y2="495.5" stroke="#00008f" stroke-width="2.6"/>
<text x="245.5" y="501.7" font-size="18.4">Sb(O) 3d</text>
<line x1="198.0" y1="517.9" x2="240.5" y2="517.9" stroke="#15801a" stroke-width="2.4" stroke-dasharray="5.8 4.4"/>
<text x="245.5" y="524.1" font-size="18.4">O(Sb) 1s</text>
<line x1="198.0" y1="540.3" x2="240.5" y2="540.3" stroke="#000" stroke-width="2.4" stroke-dasharray="2.3 2.55"/>
<text x="245.5" y="546.5" font-size="18.4">Sb 3d</text>
<line x1="198.0" y1="562.5" x2="240.5" y2="562.5" stroke="#6a6a6a" stroke-width="1"/>
<text x="245.5" y="568.9" font-size="18.4">Background</text>
<line x1="198.0" y1="585.1" x2="240.5" y2="585.1" stroke="#731573" stroke-width="2"/>
<text x="245.5" y="591.3" font-size="18.4">Envelope</text>
<clipPath id="clipc"><rect x="40.7" y="911.0" width="477.59999999999997" height="358.20000000000005"/></clipPath>
<g clip-path="url(#clipc)">
<polygon points="36.99,1243.5 39.64,1243.52 42.29,1243.54 44.95,1243.55 47.6,1243.56 50.25,1243.56 52.91,1243.56 55.56,1243.55 58.21,1243.53 60.87,1243.51 63.52,1243.47 66.17,1243.42 68.83,1243.36 71.48,1243.28 74.13,1243.17 76.79,1243.05 79.44,1242.89 82.09,1242.7 84.75,1242.46 87.4,1242.18 90.05,1241.84 92.71,1241.42 95.36,1240.91 98.01,1240.29 100.67,1239.52 103.32,1238.55 105.97,1237.29 108.63,1235.64 111.28,1233.4 113.93,1230.33 116.59,1226.09 119.24,1220.27 121.89,1212.43 124.55,1202.16 127.2,1189.14 129.85,1173.34 132.51,1155.16 135.16,1135.64 137.81,1116.79 140.47,1101.25 143.12,1092.14 145.77,1098.99 148.43,1114.16 151.08,1133.17 153.73,1153.25 156.39,1172.14 159.04,1188.63 161.69,1202.24 164.35,1212.99 167,1221.18 169.65,1227.26 172.31,1231.7 174.96,1234.92 177.61,1237.28 180.27,1239.05 182.92,1240.42 185.57,1241.5 188.23,1242.38 190.88,1243.11 193.53,1243.72 196.19,1244.23 198.84,1244.67 201.49,1245.04 204.15,1245.35 206.8,1245.61 209.45,1245.83 212.11,1246.02 214.76,1246.18 217.41,1246.31 220.07,1246.43 222.72,1246.53 225.37,1246.61 228.03,1246.69 230.68,1246.75 233.33,1246.8 235.99,1246.85 238.64,1246.89 241.29,1246.92 243.95,1246.95 246.6,1246.98 249.25,1247 251.91,1247.02 254.56,1247.03 257.21,1247.04 259.87,1247.06 262.52,1247.06 265.17,1247.07 267.83,1247.08 270.48,1247.08 273.13,1247.08 275.79,1247.08 278.44,1247.08 281.09,1247.07 283.75,1247.06 286.4,1247.04 289.05,1247.03 291.71,1247 294.36,1246.97 297.01,1246.92 299.67,1246.87 302.32,1246.81 304.97,1246.72 307.63,1246.62 310.28,1246.5 312.93,1246.36 315.59,1246.18 318.24,1245.96 320.89,1245.7 323.55,1245.39 326.2,1245.02 328.85,1244.57 331.51,1244.04 334.16,1243.42 336.81,1242.7 339.47,1241.83 342.12,1240.8 344.77,1239.55 347.43,1238.03 350.08,1236.17 352.73,1233.88 355.39,1231.05 358.04,1227.5 360.69,1223.01 363.35,1217.31 366,1210.02 368.65,1200.66 371.31,1188.63 373.96,1173.27 376.61,1153.92 379.27,1130.12 381.92,1102.17 384.57,1072.03 387.23,1044.43 389.88,1026.62 392.53,1025.3 395.19,1042.98 397.84,1072.81 400.49,1105.68 403.15,1135.77 405.8,1160.9 408.45,1180.94 411.11,1196.56 413.76,1208.61 416.41,1217.87 419.07,1225.01 421.72,1230.55 424.37,1234.93 427.03,1238.44 429.68,1241.28 432.33,1243.61 434.99,1245.53 437.64,1247.12 440.29,1248.45 442.95,1249.57 445.6,1250.49 448.25,1251.27 450.91,1251.91 453.56,1252.45 456.21,1252.91 458.87,1253.3 461.52,1253.63 464.17,1253.9 466.83,1254.14 469.48,1254.34 472.13,1254.51 474.79,1254.65 477.44,1254.77 480.09,1254.88 482.75,1254.97 485.4,1255.04 488.05,1255.11 490.71,1255.16 493.36,1255.21 496.01,1255.25 498.67,1255.29 501.32,1255.32 503.97,1255.35 506.63,1255.38 509.28,1255.4 511.93,1255.43 514.59,1255.45 517.24,1255.47 519.89,1255.5 522.55,1255.52 522.55,1255.53 519.89,1255.51 517.24,1255.49 514.59,1255.47 511.93,1255.46 509.28,1255.44 506.63,1255.42 503.97,1255.41 501.32,1255.4 498.67,1255.38 496.01,1255.37 493.36,1255.35 490.71,1255.34 488.05,1255.33 485.4,1255.31 482.75,1255.3 480.09,1255.28 477.44,1255.26 474.79,1255.24 472.13,1255.23 469.48,1255.21 466.83,1255.18 464.17,1255.16 461.52,1255.13 458.87,1255.11 456.21,1255.08 453.56,1255.05 450.91,1255.01 448.25,1254.97 445.6,1254.92 442.95,1254.85 440.29,1254.76 437.64,1254.67 434.99,1254.56 432.33,1254.44 429.68,1254.31 427.03,1254.18 424.37,1254.04 421.72,1253.9 419.07,1253.75 416.41,1253.56 413.76,1253.35 411.11,1253.11 408.45,1252.85 405.8,1252.58 403.15,1252.3 400.49,1252.02 397.84,1251.74 395.19,1251.47 392.53,1251.22 389.88,1250.99 387.23,1250.77 384.57,1250.55 381.92,1250.34 379.27,1250.13 376.61,1249.92 373.96,1249.72 371.31,1249.52 368.65,1249.34 366,1249.16 363.35,1248.99 360.69,1248.84 358.04,1248.69 355.39,1248.54 352.73,1248.4 350.08,1248.25 347.43,1248.11 344.77,1247.98 342.12,1247.86 339.47,1247.75 336.81,1247.65 334.16,1247.58 331.51,1247.52 328.85,1247.49 326.2,1247.46 323.55,1247.43 320.89,1247.4 318.24,1247.38 315.59,1247.35 312.93,1247.33 310.28,1247.31 307.63,1247.29 304.97,1247.27 302.32,1247.26 299.67,1247.24 297.01,1247.23 294.36,1247.22 291.71,1247.2 289.05,1247.19 286.4,1247.18 283.75,1247.17 281.09,1247.16 278.44,1247.15 275.79,1247.14 273.13,1247.13 270.48,1247.13 267.83,1247.12 265.17,1247.11 262.52,1247.1 259.87,1247.09 257.21,1247.08 254.56,1247.08 251.91,1247.07 249.25,1247.06 246.6,1247.05 243.95,1247.03 241.29,1247.02 238.64,1247.01 235.99,1247 233.33,1246.98 230.68,1246.97 228.03,1246.95 225.37,1246.93 222.72,1246.91 220.07,1246.89 217.41,1246.87 214.76,1246.85 212.11,1246.82 209.45,1246.79 206.8,1246.76 204.15,1246.72 201.49,1246.67 198.84,1246.62 196.19,1246.56 193.53,1246.49 190.88,1246.43 188.23,1246.36 185.57,1246.29 182.92,1246.21 180.27,1246.14 177.61,1246.07 174.96,1246 172.31,1245.93 169.65,1245.85 167,1245.76 164.35,1245.68 161.69,1245.59 159.04,1245.5 156.39,1245.41 153.73,1245.33 151.08,1245.24 148.43,1245.16 145.77,1245.09 143.12,1245.03 140.47,1244.97 137.81,1244.91 135.16,1244.86 132.51,1244.81 129.85,1244.76 127.2,1244.71 124.55,1244.67 121.89,1244.62 119.24,1244.58 116.59,1244.54 113.93,1244.5 111.28,1244.46 108.63,1244.42 105.97,1244.38 103.32,1244.35 100.67,1244.31 98.01,1244.27 95.36,1244.24 92.71,1244.2 90.05,1244.17 87.4,1244.13 84.75,1244.1 82.09,1244.07 79.44,1244.04 76.79,1244.01 74.13,1243.98 71.48,1243.95 68.83,1243.92 66.17,1243.89 63.52,1243.86 60.87,1243.83 58.21,1243.8 55.56,1243.77 52.91,1243.74 50.25,1243.71 47.6,1243.68 44.95,1243.65 42.29,1243.62 39.64,1243.59 36.99,1243.56" fill="#0000c8" fill-opacity="0.2"/>
<polygon points="36.99,1243.56 39.64,1243.59 42.29,1243.62 44.95,1243.65 47.6,1243.68 50.25,1243.71 52.91,1243.74 55.56,1243.77 58.21,1243.8 60.87,1243.83 63.52,1243.86 66.17,1243.89 68.83,1243.91 71.48,1243.94 74.13,1243.97 76.79,1244 79.44,1244.03 82.09,1244.06 84.75,1244.09 87.4,1244.12 90.05,1244.16 92.71,1244.19 95.36,1244.22 98.01,1244.25 100.67,1244.28 103.32,1244.31 105.97,1244.35 108.63,1244.38 111.28,1244.41 113.93,1244.43 116.59,1244.46 119.24,1244.49 121.89,1244.51 124.55,1244.53 127.2,1244.55 129.85,1244.56 132.51,1244.57 135.16,1244.58 137.81,1244.57 140.47,1244.55 143.12,1244.51 145.77,1244.46 148.43,1244.37 151.08,1244.22 153.73,1243.96 156.39,1243.46 159.04,1242.51 161.69,1240.8 164.35,1237.97 167,1233.9 169.65,1228.99 172.31,1224.59 174.96,1223.02 177.61,1225.48 180.27,1230.3 182.92,1235.28 185.57,1239.26 188.23,1242 190.88,1243.7 193.53,1244.69 196.19,1245.27 198.84,1245.65 201.49,1245.91 204.15,1246.11 206.8,1246.27 209.45,1246.39 212.11,1246.49 214.76,1246.57 217.41,1246.64 220.07,1246.7 222.72,1246.76 225.37,1246.8 228.03,1246.84 230.68,1246.88 233.33,1246.91 235.99,1246.93 238.64,1246.96 241.29,1246.98 243.95,1247 246.6,1247.02 249.25,1247.03 251.91,1247.04 254.56,1247.06 257.21,1247.07 259.87,1247.08 262.52,1247.09 265.17,1247.1 267.83,1247.11 270.48,1247.12 273.13,1247.13 275.79,1247.14 278.44,1247.15 281.09,1247.16 283.75,1247.17 286.4,1247.18 289.05,1247.19 291.71,1247.2 294.36,1247.21 297.01,1247.23 299.67,1247.24 302.32,1247.26 304.97,1247.27 307.63,1247.29 310.28,1247.31 312.93,1247.33 315.59,1247.35 318.24,1247.37 320.89,1247.4 323.55,1247.42 326.2,1247.45 328.85,1247.48 331.51,1247.51 334.16,1247.57 336.81,1247.64 339.47,1247.73 342.12,1247.84 344.77,1247.96 347.43,1248.08 350.08,1248.22 352.73,1248.35 355.39,1248.49 358.04,1248.63 360.69,1248.76 363.35,1248.9 366,1249.05 368.65,1249.21 371.31,1249.37 373.96,1249.53 376.61,1249.7 379.27,1249.86 381.92,1250.02 384.57,1250.16 387.23,1250.3 389.88,1250.41 392.53,1250.51 395.19,1250.59 397.84,1250.63 400.49,1250.58 403.15,1250.36 405.8,1249.77 408.45,1248.48 411.11,1245.96 413.76,1241.72 416.41,1235.65 419.07,1228.59 421.72,1223.03 424.37,1222.55 427.03,1227.64 429.68,1234.98 432.33,1241.69 434.99,1246.66 437.64,1249.85 440.29,1251.71 442.95,1252.77 445.6,1253.4 448.25,1253.8 450.91,1254.09 453.56,1254.3 456.21,1254.47 458.87,1254.61 461.52,1254.73 464.17,1254.82 466.83,1254.9 469.48,1254.97 472.13,1255.03 474.79,1255.08 477.44,1255.13 480.09,1255.17 482.75,1255.2 485.4,1255.23 488.05,1255.26 490.71,1255.29 493.36,1255.31 496.01,1255.33 498.67,1255.35 501.32,1255.37 503.97,1255.39 506.63,1255.41 509.28,1255.43 511.93,1255.44 514.59,1255.46 517.24,1255.48 519.89,1255.51 522.55,1255.53 522.55,1255.53 519.89,1255.51 517.24,1255.49 514.59,1255.47 511.93,1255.46 509.28,1255.44 506.63,1255.42 503.97,1255.41 501.32,1255.4 498.67,1255.38 496.01,1255.37 493.36,1255.35 490.71,1255.34 488.05,1255.33 485.4,1255.31 482.75,1255.3 480.09,1255.28 477.44,1255.26 474.79,1255.24 472.13,1255.23 469.48,1255.21 466.83,1255.18 464.17,1255.16 461.52,1255.13 458.87,1255.11 456.21,1255.08 453.56,1255.05 450.91,1255.01 448.25,1254.97 445.6,1254.92 442.95,1254.85 440.29,1254.76 437.64,1254.67 434.99,1254.56 432.33,1254.44 429.68,1254.31 427.03,1254.18 424.37,1254.04 421.72,1253.9 419.07,1253.75 416.41,1253.56 413.76,1253.35 411.11,1253.11 408.45,1252.85 405.8,1252.58 403.15,1252.3 400.49,1252.02 397.84,1251.74 395.19,1251.47 392.53,1251.22 389.88,1250.99 387.23,1250.77 384.57,1250.55 381.92,1250.34 379.27,1250.13 376.61,1249.92 373.96,1249.72 371.31,1249.52 368.65,1249.34 366,1249.16 363.35,1248.99 360.69,1248.84 358.04,1248.69 355.39,1248.54 352.73,1248.4 350.08,1248.25 347.43,1248.11 344.77,1247.98 342.12,1247.86 339.47,1247.75 336.81,1247.65 334.16,1247.58 331.51,1247.52 328.85,1247.49 326.2,1247.46 323.55,1247.43 320.89,1247.4 318.24,1247.38 315.59,1247.35 312.93,1247.33 310.28,1247.31 307.63,1247.29 304.97,1247.27 302.32,1247.26 299.67,1247.24 297.01,1247.23 294.36,1247.22 291.71,1247.2 289.05,1247.19 286.4,1247.18 283.75,1247.17 281.09,1247.16 278.44,1247.15 275.79,1247.14 273.13,1247.13 270.48,1247.13 267.83,1247.12 265.17,1247.11 262.52,1247.1 259.87,1247.09 257.21,1247.08 254.56,1247.08 251.91,1247.07 249.25,1247.06 246.6,1247.05 243.95,1247.03 241.29,1247.02 238.64,1247.01 235.99,1247 233.33,1246.98 230.68,1246.97 228.03,1246.95 225.37,1246.93 222.72,1246.91 220.07,1246.89 217.41,1246.87 214.76,1246.85 212.11,1246.82 209.45,1246.79 206.8,1246.76 204.15,1246.72 201.49,1246.67 198.84,1246.62 196.19,1246.56 193.53,1246.49 190.88,1246.43 188.23,1246.36 185.57,1246.29 182.92,1246.21 180.27,1246.14 177.61,1246.07 174.96,1246 172.31,1245.93 169.65,1245.85 167,1245.76 164.35,1245.68 161.69,1245.59 159.04,1245.5 156.39,1245.41 153.73,1245.33 151.08,1245.24 148.43,1245.16 145.77,1245.09 143.12,1245.03 140.47,1244.97 137.81,1244.91 135.16,1244.86 132.51,1244.81 129.85,1244.76 127.2,1244.71 124.55,1244.67 121.89,1244.62 119.24,1244.58 116.59,1244.54 113.93,1244.5 111.28,1244.46 108.63,1244.42 105.97,1244.38 103.32,1244.35 100.67,1244.31 98.01,1244.27 95.36,1244.24 92.71,1244.2 90.05,1244.17 87.4,1244.13 84.75,1244.1 82.09,1244.07 79.44,1244.04 76.79,1244.01 74.13,1243.98 71.48,1243.95 68.83,1243.92 66.17,1243.89 63.52,1243.86 60.87,1243.83 58.21,1243.8 55.56,1243.77 52.91,1243.74 50.25,1243.71 47.6,1243.68 44.95,1243.65 42.29,1243.62 39.64,1243.59 36.99,1243.56" fill="#c01000" fill-opacity="0.22"/>
<polygon points="36.99,1243.56 39.64,1243.59 42.29,1243.62 44.95,1243.65 47.6,1243.68 50.25,1243.71 52.91,1243.74 55.56,1243.77 58.21,1243.8 60.87,1243.83 63.52,1243.86 66.17,1243.89 68.83,1243.92 71.48,1243.95 74.13,1243.98 76.79,1244.01 79.44,1244.04 82.09,1244.07 84.75,1244.1 87.4,1244.13 90.05,1244.17 92.71,1244.2 95.36,1244.24 98.01,1244.27 100.67,1244.31 103.32,1244.35 105.97,1244.38 108.63,1244.42 111.28,1244.46 113.93,1244.5 116.59,1244.54 119.24,1244.58 121.89,1244.62 124.55,1244.67 127.2,1244.71 129.85,1244.76 132.51,1244.81 135.16,1244.86 137.81,1244.91 140.47,1244.97 143.12,1245.03 145.77,1245.09 148.43,1245.16 151.08,1245.24 153.73,1245.33 156.39,1245.41 159.04,1245.5 161.69,1245.59 164.35,1245.68 167,1245.76 169.65,1245.85 172.31,1245.93 174.96,1246 177.61,1246.07 180.27,1246.14 182.92,1246.21 185.57,1246.29 188.23,1246.36 190.88,1246.43 193.53,1246.49 196.19,1246.56 198.84,1246.62 201.49,1246.67 204.15,1246.72 206.8,1246.76 209.45,1246.79 212.11,1246.82 214.76,1246.85 217.41,1246.87 220.07,1246.89 222.72,1246.91 225.37,1246.93 228.03,1246.95 230.68,1246.97 233.33,1246.98 235.99,1247 238.64,1247.01 241.29,1247.02 243.95,1247.03 246.6,1247.04 249.25,1247.05 251.91,1247.06 254.56,1247.07 257.21,1247.08 259.87,1247.09 262.52,1247.1 265.17,1247.1 267.83,1247.11 270.48,1247.12 273.13,1247.12 275.79,1247.13 278.44,1247.13 281.09,1247.14 283.75,1247.14 286.4,1247.15 289.05,1247.15 291.71,1247.15 294.36,1247.15 297.01,1247.15 299.67,1247.15 302.32,1247.14 304.97,1247.14 307.63,1247.13 310.28,1247.11 312.93,1247.09 315.59,1247.06 318.24,1247.03 320.89,1246.99 323.55,1246.93 326.2,1246.86 328.85,1246.78 331.51,1246.67 334.16,1246.56 336.81,1246.44 339.47,1246.29 342.12,1246.1 344.77,1245.86 347.43,1245.53 350.08,1245.07 352.73,1244.4 355.39,1243.35 358.04,1241.64 360.69,1238.76 363.35,1233.99 366,1226.45 368.65,1215.29 371.31,1200.13 373.96,1181.55 376.61,1161.6 379.27,1144.31 381.92,1135.28 384.57,1138.55 387.23,1152.68 389.88,1172.31 392.53,1192.4 395.19,1209.94 397.84,1223.63 400.49,1233.42 403.15,1239.95 405.8,1244.14 408.45,1246.81 411.11,1248.56 413.76,1249.78 416.41,1250.69 419.07,1251.4 421.72,1251.96 424.37,1252.43 427.03,1252.84 429.68,1253.2 432.33,1253.51 434.99,1253.78 437.64,1254.02 440.29,1254.22 442.95,1254.39 445.6,1254.54 448.25,1254.66 450.91,1254.75 453.56,1254.83 456.21,1254.89 458.87,1254.96 461.52,1255.01 464.17,1255.06 466.83,1255.1 469.48,1255.13 472.13,1255.17 474.79,1255.2 477.44,1255.22 480.09,1255.25 482.75,1255.27 485.4,1255.29 488.05,1255.31 490.71,1255.33 493.36,1255.34 496.01,1255.36 498.67,1255.37 501.32,1255.39 503.97,1255.41 506.63,1255.42 509.28,1255.44 511.93,1255.45 514.59,1255.47 517.24,1255.49 519.89,1255.51 522.55,1255.53 522.55,1255.53 519.89,1255.51 517.24,1255.49 514.59,1255.47 511.93,1255.46 509.28,1255.44 506.63,1255.42 503.97,1255.41 501.32,1255.4 498.67,1255.38 496.01,1255.37 493.36,1255.35 490.71,1255.34 488.05,1255.33 485.4,1255.31 482.75,1255.3 480.09,1255.28 477.44,1255.26 474.79,1255.24 472.13,1255.23 469.48,1255.21 466.83,1255.18 464.17,1255.16 461.52,1255.13 458.87,1255.11 456.21,1255.08 453.56,1255.05 450.91,1255.01 448.25,1254.97 445.6,1254.92 442.95,1254.85 440.29,1254.76 437.64,1254.67 434.99,1254.56 432.33,1254.44 429.68,1254.31 427.03,1254.18 424.37,1254.04 421.72,1253.9 419.07,1253.75 416.41,1253.56 413.76,1253.35 411.11,1253.11 408.45,1252.85 405.8,1252.58 403.15,1252.3 400.49,1252.02 397.84,1251.74 395.19,1251.47 392.53,1251.22 389.88,1250.99 387.23,1250.77 384.57,1250.55 381.92,1250.34 379.27,1250.13 376.61,1249.92 373.96,1249.72 371.31,1249.52 368.65,1249.34 366,1249.16 363.35,1248.99 360.69,1248.84 358.04,1248.69 355.39,1248.54 352.73,1248.4 350.08,1248.25 347.43,1248.11 344.77,1247.98 342.12,1247.86 339.47,1247.75 336.81,1247.65 334.16,1247.58 331.51,1247.52 328.85,1247.49 326.2,1247.46 323.55,1247.43 320.89,1247.4 318.24,1247.38 315.59,1247.35 312.93,1247.33 310.28,1247.31 307.63,1247.29 304.97,1247.27 302.32,1247.26 299.67,1247.24 297.01,1247.23 294.36,1247.22 291.71,1247.2 289.05,1247.19 286.4,1247.18 283.75,1247.17 281.09,1247.16 278.44,1247.15 275.79,1247.14 273.13,1247.13 270.48,1247.13 267.83,1247.12 265.17,1247.11 262.52,1247.1 259.87,1247.09 257.21,1247.08 254.56,1247.08 251.91,1247.07 249.25,1247.06 246.6,1247.05 243.95,1247.03 241.29,1247.02 238.64,1247.01 235.99,1247 233.33,1246.98 230.68,1246.97 228.03,1246.95 225.37,1246.93 222.72,1246.91 220.07,1246.89 217.41,1246.87 214.76,1246.85 212.11,1246.82 209.45,1246.79 206.8,1246.76 204.15,1246.72 201.49,1246.67 198.84,1246.62 196.19,1246.56 193.53,1246.49 190.88,1246.43 188.23,1246.36 185.57,1246.29 182.92,1246.21 180.27,1246.14 177.61,1246.07 174.96,1246 172.31,1245.93 169.65,1245.85 167,1245.76 164.35,1245.68 161.69,1245.59 159.04,1245.5 156.39,1245.41 153.73,1245.33 151.08,1245.24 148.43,1245.16 145.77,1245.09 143.12,1245.03 140.47,1244.97 137.81,1244.91 135.16,1244.86 132.51,1244.81 129.85,1244.76 127.2,1244.71 124.55,1244.67 121.89,1244.62 119.24,1244.58 116.59,1244.54 113.93,1244.5 111.28,1244.46 108.63,1244.42 105.97,1244.38 103.32,1244.35 100.67,1244.31 98.01,1244.27 95.36,1244.24 92.71,1244.2 90.05,1244.17 87.4,1244.13 84.75,1244.1 82.09,1244.07 79.44,1244.04 76.79,1244.01 74.13,1243.98 71.48,1243.95 68.83,1243.92 66.17,1243.89 63.52,1243.86 60.87,1243.83 58.21,1243.8 55.56,1243.77 52.91,1243.74 50.25,1243.71 47.6,1243.68 44.95,1243.65 42.29,1243.62 39.64,1243.59 36.99,1243.56" fill="#008800" fill-opacity="0.2"/>
<g fill="none" stroke="#000" stroke-width="1.45"><circle cx="36.99" cy="1243.19" r="2.9"/><circle cx="39.64" cy="1243.58" r="2.9"/><circle cx="42.29" cy="1243.39" r="2.9"/><circle cx="44.95" cy="1243.68" r="2.9"/><circle cx="47.6" cy="1243.71" r="2.9"/><circle cx="50.25" cy="1243.05" r="2.9"/><circle cx="52.91" cy="1242.98" r="2.9"/><circle cx="55.56" cy="1243.96" r="2.9"/><circle cx="58.21" cy="1243.25" r="2.9"/><circle cx="60.87" cy="1243.2" r="2.9"/><circle cx="63.52" cy="1244.07" r="2.9"/><circle cx="66.17" cy="1243.39" r="2.9"/><circle cx="68.83" cy="1243.77" r="2.9"/><circle cx="71.48" cy="1243.25" r="2.9"/><circle cx="74.13" cy="1243.35" r="2.9"/><circle cx="76.79" cy="1242.63" r="2.9"/><circle cx="79.44" cy="1243.06" r="2.9"/><circle cx="82.09" cy="1243.14" r="2.9"/><circle cx="84.75" cy="1242.5" r="2.9"/><circle cx="87.4" cy="1242.47" r="2.9"/><circle cx="90.05" cy="1242.04" r="2.9"/><circle cx="92.71" cy="1240.9" r="2.9"/><circle cx="95.36" cy="1241.22" r="2.9"/><circle cx="98.01" cy="1240.4" r="2.9"/><circle cx="100.67" cy="1239.28" r="2.9"/><circle cx="103.32" cy="1237.98" r="2.9"/><circle cx="105.97" cy="1237.72" r="2.9"/><circle cx="108.63" cy="1235.59" r="2.9"/><circle cx="111.28" cy="1233.65" r="2.9"/><circle cx="113.93" cy="1230.77" r="2.9"/><circle cx="116.59" cy="1226.32" r="2.9"/><circle cx="119.24" cy="1220.76" r="2.9"/><circle cx="121.89" cy="1212.29" r="2.9"/><circle cx="124.55" cy="1202.5" r="2.9"/><circle cx="127.2" cy="1189.07" r="2.9"/><circle cx="129.85" cy="1173.89" r="2.9"/><circle cx="132.51" cy="1155.71" r="2.9"/><circle cx="135.16" cy="1135.44" r="2.9"/><circle cx="137.81" cy="1117.12" r="2.9"/><circle cx="140.47" cy="1103.21" r="2.9"/><circle cx="143.12" cy="1098.12" r="2.9"/><circle cx="145.77" cy="1101.6" r="2.9"/><circle cx="148.43" cy="1114.82" r="2.9"/><circle cx="151.08" cy="1132.55" r="2.9"/><circle cx="153.73" cy="1152.26" r="2.9"/><circle cx="156.39" cy="1170.29" r="2.9"/><circle cx="159.04" cy="1185.63" r="2.9"/><circle cx="161.69" cy="1197.67" r="2.9"/><circle cx="164.35" cy="1205.48" r="2.9"/><circle cx="167" cy="1209.88" r="2.9"/><circle cx="169.65" cy="1210.69" r="2.9"/><circle cx="172.31" cy="1210.93" r="2.9"/><circle cx="174.96" cy="1212.41" r="2.9"/><circle cx="177.61" cy="1217.32" r="2.9"/><circle cx="180.27" cy="1223.45" r="2.9"/><circle cx="182.92" cy="1229.1" r="2.9"/><circle cx="185.57" cy="1234.93" r="2.9"/><circle cx="188.23" cy="1238.61" r="2.9"/><circle cx="190.88" cy="1240.88" r="2.9"/><circle cx="193.53" cy="1242.01" r="2.9"/><circle cx="196.19" cy="1243.22" r="2.9"/><circle cx="198.84" cy="1243.36" r="2.9"/><circle cx="201.49" cy="1244.69" r="2.9"/><circle cx="204.15" cy="1244.84" r="2.9"/><circle cx="206.8" cy="1244.87" r="2.9"/><circle cx="209.45" cy="1244.92" r="2.9"/><circle cx="212.11" cy="1246.12" r="2.9"/><circle cx="214.76" cy="1246.5" r="2.9"/><circle cx="217.41" cy="1245.6" r="2.9"/><circle cx="220.07" cy="1246.61" r="2.9"/><circle cx="222.72" cy="1246.27" r="2.9"/><circle cx="225.37" cy="1246.07" r="2.9"/><circle cx="228.03" cy="1246.34" r="2.9"/><circle cx="230.68" cy="1246.99" r="2.9"/><circle cx="233.33" cy="1247.18" r="2.9"/><circle cx="235.99" cy="1246.24" r="2.9"/><circle cx="238.64" cy="1246.98" r="2.9"/><circle cx="241.29" cy="1246.33" r="2.9"/><circle cx="243.95" cy="1247.18" r="2.9"/><circle cx="246.6" cy="1246.74" r="2.9"/><circle cx="249.25" cy="1247.43" r="2.9"/><circle cx="251.91" cy="1247.57" r="2.9"/><circle cx="254.56" cy="1247.02" r="2.9"/><circle cx="257.21" cy="1247.63" r="2.9"/><circle cx="259.87" cy="1246.81" r="2.9"/><circle cx="262.52" cy="1246.55" r="2.9"/><circle cx="265.17" cy="1247.18" r="2.9"/><circle cx="267.83" cy="1246.5" r="2.9"/><circle cx="270.48" cy="1246.7" r="2.9"/><circle cx="273.13" cy="1246.96" r="2.9"/><circle cx="275.79" cy="1247.2" r="2.9"/><circle cx="278.44" cy="1246.64" r="2.9"/><circle cx="281.09" cy="1246.5" r="2.9"/><circle cx="283.75" cy="1247.47" r="2.9"/><circle cx="286.4" cy="1246.79" r="2.9"/><circle cx="289.05" cy="1247.53" r="2.9"/><circle cx="291.71" cy="1247.42" r="2.9"/><circle cx="294.36" cy="1246.76" r="2.9"/><circle cx="297.01" cy="1246.8" r="2.9"/><circle cx="299.67" cy="1246.8" r="2.9"/><circle cx="302.32" cy="1246.86" r="2.9"/><circle cx="304.97" cy="1246.7" r="2.9"/><circle cx="307.63" cy="1246.53" r="2.9"/><circle cx="310.28" cy="1246.45" r="2.9"/><circle cx="312.93" cy="1246.64" r="2.9"/><circle cx="315.59" cy="1245.9" r="2.9"/><circle cx="318.24" cy="1245.53" r="2.9"/><circle cx="320.89" cy="1245.55" r="2.9"/><circle cx="323.55" cy="1244.58" r="2.9"/><circle cx="326.2" cy="1244.18" r="2.9"/><circle cx="328.85" cy="1244.43" r="2.9"/><circle cx="331.51" cy="1243.21" r="2.9"/><circle cx="334.16" cy="1242.46" r="2.9"/><circle cx="336.81" cy="1240.88" r="2.9"/><circle cx="339.47" cy="1240.25" r="2.9"/><circle cx="342.12" cy="1239.12" r="2.9"/><circle cx="344.77" cy="1236.82" r="2.9"/><circle cx="347.43" cy="1235.55" r="2.9"/><circle cx="350.08" cy="1233.11" r="2.9"/><circle cx="352.73" cy="1229.32" r="2.9"/><circle cx="355.39" cy="1225.96" r="2.9"/><circle cx="358.04" cy="1220.34" r="2.9"/><circle cx="360.69" cy="1213.07" r="2.9"/><circle cx="363.35" cy="1202.05" r="2.9"/><circle cx="366" cy="1187.46" r="2.9"/><circle cx="368.65" cy="1166.77" r="2.9"/><circle cx="371.31" cy="1138.51" r="2.9"/><circle cx="373.96" cy="1104.39" r="2.9"/><circle cx="376.61" cy="1065.58" r="2.9"/><circle cx="379.27" cy="1024.59" r="2.9"/><circle cx="381.92" cy="986.49" r="2.9"/><circle cx="384.57" cy="959.58" r="2.9"/><circle cx="387.23" cy="945.98" r="2.9"/><circle cx="389.88" cy="947.14" r="2.9"/><circle cx="392.53" cy="965.61" r="2.9"/><circle cx="395.19" cy="1000.33" r="2.9"/><circle cx="397.84" cy="1043.43" r="2.9"/><circle cx="400.49" cy="1085.75" r="2.9"/><circle cx="403.15" cy="1121.24" r="2.9"/><circle cx="405.8" cy="1149.5" r="2.9"/><circle cx="408.45" cy="1170.84" r="2.9"/><circle cx="411.11" cy="1184.29" r="2.9"/><circle cx="413.76" cy="1193.49" r="2.9"/><circle cx="416.41" cy="1197.36" r="2.9"/><circle cx="419.07" cy="1197.27" r="2.9"/><circle cx="421.72" cy="1197.42" r="2.9"/><circle cx="424.37" cy="1202.21" r="2.9"/><circle cx="427.03" cy="1210.25" r="2.9"/><circle cx="429.68" cy="1220.45" r="2.9"/><circle cx="432.33" cy="1229.85" r="2.9"/><circle cx="434.99" cy="1237.09" r="2.9"/><circle cx="437.64" cy="1241.18" r="2.9"/><circle cx="440.29" cy="1244.65" r="2.9"/><circle cx="442.95" cy="1246.83" r="2.9"/><circle cx="445.6" cy="1249" r="2.9"/><circle cx="448.25" cy="1249.71" r="2.9"/><circle cx="450.91" cy="1251.15" r="2.9"/><circle cx="453.56" cy="1251.09" r="2.9"/><circle cx="456.21" cy="1251.93" r="2.9"/><circle cx="458.87" cy="1252.83" r="2.9"/><circle cx="461.52" cy="1253.56" r="2.9"/><circle cx="464.17" cy="1253.41" r="2.9"/><circle cx="466.83" cy="1253.45" r="2.9"/><circle cx="469.48" cy="1253.58" r="2.9"/><circle cx="472.13" cy="1254.29" r="2.9"/><circle cx="474.79" cy="1254.07" r="2.9"/><circle cx="477.44" cy="1254.97" r="2.9"/><circle cx="480.09" cy="1255.14" r="2.9"/><circle cx="482.75" cy="1254.47" r="2.9"/><circle cx="485.4" cy="1254.68" r="2.9"/><circle cx="488.05" cy="1255.39" r="2.9"/><circle cx="490.71" cy="1255.26" r="2.9"/><circle cx="493.36" cy="1255.52" r="2.9"/><circle cx="496.01" cy="1255.02" r="2.9"/><circle cx="498.67" cy="1254.8" r="2.9"/><circle cx="501.32" cy="1255.04" r="2.9"/><circle cx="503.97" cy="1255.68" r="2.9"/><circle cx="506.63" cy="1255.08" r="2.9"/><circle cx="509.28" cy="1255.2" r="2.9"/><circle cx="511.93" cy="1255.31" r="2.9"/><circle cx="514.59" cy="1255.34" r="2.9"/><circle cx="517.24" cy="1255.35" r="2.9"/><circle cx="519.89" cy="1255.99" r="2.9"/><circle cx="522.55" cy="1255.1" r="2.9"/></g>
<polyline points="36.99,1243.56 39.64,1243.59 42.29,1243.62 44.95,1243.65 47.6,1243.68 50.25,1243.71 52.91,1243.74 55.56,1243.77 58.21,1243.8 60.87,1243.83 63.52,1243.86 66.17,1243.89 68.83,1243.92 71.48,1243.95 74.13,1243.98 76.79,1244.01 79.44,1244.04 82.09,1244.07 84.75,1244.1 87.4,1244.13 90.05,1244.17 92.71,1244.2 95.36,1244.24 98.01,1244.27 100.67,1244.31 103.32,1244.35 105.97,1244.38 108.63,1244.42 111.28,1244.46 113.93,1244.5 116.59,1244.54 119.24,1244.58 121.89,1244.62 124.55,1244.67 127.2,1244.71 129.85,1244.76 132.51,1244.81 135.16,1244.86 137.81,1244.91 140.47,1244.97 143.12,1245.03 145.77,1245.09 148.43,1245.16 151.08,1245.24 153.73,1245.33 156.39,1245.41 159.04,1245.5 161.69,1245.59 164.35,1245.68 167,1245.76 169.65,1245.85 172.31,1245.93 174.96,1246 177.61,1246.07 180.27,1246.14 182.92,1246.21 185.57,1246.29 188.23,1246.36 190.88,1246.43 193.53,1246.49 196.19,1246.56 198.84,1246.62 201.49,1246.67 204.15,1246.72 206.8,1246.76 209.45,1246.79 212.11,1246.82 214.76,1246.85 217.41,1246.87 220.07,1246.89 222.72,1246.91 225.37,1246.93 228.03,1246.95 230.68,1246.97 233.33,1246.98 235.99,1247 238.64,1247.01 241.29,1247.02 243.95,1247.03 246.6,1247.05 249.25,1247.06 251.91,1247.07 254.56,1247.08 257.21,1247.08 259.87,1247.09 262.52,1247.1 265.17,1247.11 267.83,1247.12 270.48,1247.13 273.13,1247.13 275.79,1247.14 278.44,1247.15 281.09,1247.16 283.75,1247.17 286.4,1247.18 289.05,1247.19 291.71,1247.2 294.36,1247.22 297.01,1247.23 299.67,1247.24 302.32,1247.26 304.97,1247.27 307.63,1247.29 310.28,1247.31 312.93,1247.33 315.59,1247.35 318.24,1247.38 320.89,1247.4 323.55,1247.43 326.2,1247.46 328.85,1247.49 331.51,1247.52 334.16,1247.58 336.81,1247.65 339.47,1247.75 342.12,1247.86 344.77,1247.98 347.43,1248.11 350.08,1248.25 352.73,1248.4 355.39,1248.54 358.04,1248.69 360.69,1248.84 363.35,1248.99 366,1249.16 368.65,1249.34 371.31,1249.52 373.96,1249.72 376.61,1249.92 379.27,1250.13 381.92,1250.34 384.57,1250.55 387.23,1250.77 389.88,1250.99 392.53,1251.22 395.19,1251.47 397.84,1251.74 400.49,1252.02 403.15,1252.3 405.8,1252.58 408.45,1252.85 411.11,1253.11 413.76,1253.35 416.41,1253.56 419.07,1253.75 421.72,1253.9 424.37,1254.04 427.03,1254.18 429.68,1254.31 432.33,1254.44 434.99,1254.56 437.64,1254.67 440.29,1254.76 442.95,1254.85 445.6,1254.92 448.25,1254.97 450.91,1255.01 453.56,1255.05 456.21,1255.08 458.87,1255.11 461.52,1255.13 464.17,1255.16 466.83,1255.18 469.48,1255.21 472.13,1255.23 474.79,1255.24 477.44,1255.26 480.09,1255.28 482.75,1255.3 485.4,1255.31 488.05,1255.33 490.71,1255.34 493.36,1255.35 496.01,1255.37 498.67,1255.38 501.32,1255.4 503.97,1255.41 506.63,1255.42 509.28,1255.44 511.93,1255.46 514.59,1255.47 517.24,1255.49 519.89,1255.51 522.55,1255.53" fill="none" stroke="#6a6a6a" stroke-width="1"/>
<path d="M320.89,1246.99 L323.55,1246.93 L326.2,1246.86 L328.85,1246.78 L331.51,1246.67 L334.16,1246.56 L336.81,1246.44 L339.47,1246.29 L342.12,1246.1 L344.77,1245.86 L347.43,1245.53 L350.08,1245.07 L352.73,1244.4 L355.39,1243.35 L358.04,1241.64 L360.69,1238.76 L363.35,1233.99 L366,1226.45 L368.65,1215.29 L371.31,1200.13 L373.96,1181.55 L376.61,1161.6 L379.27,1144.31 L381.92,1135.28 L384.57,1138.55 L387.23,1152.68 L389.88,1172.31 L392.53,1192.4 L395.19,1209.94 L397.84,1223.63 L400.49,1233.42 L403.15,1239.95 L405.8,1244.14 L408.45,1246.81 L411.11,1248.56 L413.76,1249.78 L416.41,1250.69 L419.07,1251.4 L421.72,1251.96 L424.37,1252.43 L427.03,1252.84 L429.68,1253.2 L432.33,1253.51 L434.99,1253.78 L437.64,1254.02 L440.29,1254.22 L442.95,1254.39 L445.6,1254.54 L448.25,1254.66 L450.91,1254.75" fill="none" stroke-linejoin="round" stroke="#15801a" stroke-width="2.4" stroke-dasharray="5.8 4.4"/>
<path d="M36.99,1243.56 L39.64,1243.59 L42.29,1243.62 L44.95,1243.65 L47.6,1243.68 L50.25,1243.71 L52.91,1243.74 L55.56,1243.77 L58.21,1243.8 L60.87,1243.83 L63.52,1243.86 L66.17,1243.89 L68.83,1243.91 L71.48,1243.94 L74.13,1243.97 L76.79,1244 L79.44,1244.03 L82.09,1244.06 L84.75,1244.09 L87.4,1244.12 L90.05,1244.16 L92.71,1244.19 L95.36,1244.22 L98.01,1244.25 L100.67,1244.28 L103.32,1244.31 L105.97,1244.35 L108.63,1244.38 L111.28,1244.41 L113.93,1244.43 L116.59,1244.46 L119.24,1244.49 L121.89,1244.51 L124.55,1244.53 L127.2,1244.55 L129.85,1244.56 L132.51,1244.57 L135.16,1244.58 L137.81,1244.57 L140.47,1244.55 L143.12,1244.51 L145.77,1244.46 L148.43,1244.37 L151.08,1244.22 L153.73,1243.96 L156.39,1243.46 L159.04,1242.51 L161.69,1240.8 L164.35,1237.97 L167,1233.9 L169.65,1228.99 L172.31,1224.59 L174.96,1223.02 L177.61,1225.48 L180.27,1230.3 L182.92,1235.28 L185.57,1239.26 L188.23,1242 L190.88,1243.7 L193.53,1244.69 L196.19,1245.27 L198.84,1245.65 L201.49,1245.91 L204.15,1246.11 L206.8,1246.27 L209.45,1246.39 L212.11,1246.49 L214.76,1246.57 L217.41,1246.64 L220.07,1246.7 L222.72,1246.76 L225.37,1246.8 L228.03,1246.84 L230.68,1246.88 L233.33,1246.91 L235.99,1246.93 L238.64,1246.96 L241.29,1246.98 L243.95,1247 L246.6,1247.02 L249.25,1247.03 L251.91,1247.04 L254.56,1247.06 L257.21,1247.07 L259.87,1247.08 L262.52,1247.09 L265.17,1247.1 L267.83,1247.11 L270.48,1247.12 L273.13,1247.13 L275.79,1247.14 L278.44,1247.15 L281.09,1247.16 L283.75,1247.17 L286.4,1247.18 L289.05,1247.19 L291.71,1247.2 L294.36,1247.21 L297.01,1247.23 L299.67,1247.24 L302.32,1247.26 L304.97,1247.27 L307.63,1247.29 L310.28,1247.31 L312.93,1247.33 L315.59,1247.35 L318.24,1247.37 L320.89,1247.4 L323.55,1247.42 L326.2,1247.45 L328.85,1247.48 L331.51,1247.51 L334.16,1247.57 L336.81,1247.64 L339.47,1247.73 L342.12,1247.84 L344.77,1247.96 L347.43,1248.08 L350.08,1248.22 L352.73,1248.35 L355.39,1248.49 L358.04,1248.63 L360.69,1248.76 L363.35,1248.9 L366,1249.05 L368.65,1249.21 L371.31,1249.37 L373.96,1249.53 L376.61,1249.7 L379.27,1249.86 L381.92,1250.02 L384.57,1250.16 L387.23,1250.3 L389.88,1250.41 L392.53,1250.51 L395.19,1250.59 L397.84,1250.63 L400.49,1250.58 L403.15,1250.36 L405.8,1249.77 L408.45,1248.48 L411.11,1245.96 L413.76,1241.72 L416.41,1235.65 L419.07,1228.59 L421.72,1223.03 L424.37,1222.55 L427.03,1227.64 L429.68,1234.98 L432.33,1241.69 L434.99,1246.66 L437.64,1249.85 L440.29,1251.71 L442.95,1252.77 L445.6,1253.4 L448.25,1253.8 L450.91,1254.09 L453.56,1254.3 L456.21,1254.47 L458.87,1254.61 L461.52,1254.73 L464.17,1254.82 L466.83,1254.9 L469.48,1254.97 L472.13,1255.03 L474.79,1255.08 L477.44,1255.13 L480.09,1255.17 L482.75,1255.2 L485.4,1255.23 L488.05,1255.26 L490.71,1255.29 L493.36,1255.31 L496.01,1255.33 L498.67,1255.35 L501.32,1255.37 L503.97,1255.39 L506.63,1255.41 L509.28,1255.43 L511.93,1255.44 L514.59,1255.46 L517.24,1255.48 L519.89,1255.51 L522.55,1255.53" fill="none" stroke-linejoin="round" stroke="#b5101f" stroke-width="2.4" stroke-dasharray="2.3 2.55"/>
<path d="M36.99,1243.5 L39.64,1243.52 L42.29,1243.54 L44.95,1243.55 L47.6,1243.56 L50.25,1243.56 L52.91,1243.56 L55.56,1243.55 L58.21,1243.53 L60.87,1243.51 L63.52,1243.47 L66.17,1243.42 L68.83,1243.36 L71.48,1243.28 L74.13,1243.17 L76.79,1243.05 L79.44,1242.89 L82.09,1242.7 L84.75,1242.46 L87.4,1242.18 L90.05,1241.84 L92.71,1241.42 L95.36,1240.91 L98.01,1240.29 L100.67,1239.52 L103.32,1238.55 L105.97,1237.29 L108.63,1235.64 L111.28,1233.4 L113.93,1230.33 L116.59,1226.09 L119.24,1220.27 L121.89,1212.43 L124.55,1202.16 L127.2,1189.14 L129.85,1173.34 L132.51,1155.16 L135.16,1135.64 L137.81,1116.79 L140.47,1101.25 L143.12,1092.14 L145.77,1098.99 L148.43,1114.16 L151.08,1133.17 L153.73,1153.25 L156.39,1172.14 L159.04,1188.63 L161.69,1202.24 L164.35,1212.99 L167,1221.18 L169.65,1227.26 L172.31,1231.7 L174.96,1234.92 L177.61,1237.28 L180.27,1239.05 L182.92,1240.42 L185.57,1241.5 L188.23,1242.38 L190.88,1243.11 L193.53,1243.72 L196.19,1244.23 L198.84,1244.67 L201.49,1245.04 L204.15,1245.35 L206.8,1245.61 L209.45,1245.83 L212.11,1246.02 L214.76,1246.18 L217.41,1246.31 L220.07,1246.43 L222.72,1246.53 L225.37,1246.61 L228.03,1246.69 L230.68,1246.75 L233.33,1246.8 L235.99,1246.85 L238.64,1246.89 L241.29,1246.92 L243.95,1246.95 L246.6,1246.98 L249.25,1247 L251.91,1247.02 L254.56,1247.03 L257.21,1247.04 L259.87,1247.06 L262.52,1247.06 L265.17,1247.07 L267.83,1247.08 L270.48,1247.08 L273.13,1247.08 L275.79,1247.08 L278.44,1247.08 L281.09,1247.07 L283.75,1247.06 L286.4,1247.04 L289.05,1247.03 L291.71,1247 L294.36,1246.97 L297.01,1246.92 L299.67,1246.87 L302.32,1246.81 L304.97,1246.72 L307.63,1246.62 L310.28,1246.5 L312.93,1246.36 L315.59,1246.18 L318.24,1245.96 L320.89,1245.7 L323.55,1245.39 L326.2,1245.02 L328.85,1244.57 L331.51,1244.04 L334.16,1243.42 L336.81,1242.7 L339.47,1241.83 L342.12,1240.8 L344.77,1239.55 L347.43,1238.03 L350.08,1236.17 L352.73,1233.88 L355.39,1231.05 L358.04,1227.5 L360.69,1223.01 L363.35,1217.31 L366,1210.02 L368.65,1200.66 L371.31,1188.63 L373.96,1173.27 L376.61,1153.92 L379.27,1130.12 L381.92,1102.17 L384.57,1072.03 L387.23,1044.43 L389.88,1026.62 L392.53,1025.3 L395.19,1042.98 L397.84,1072.81 L400.49,1105.68 L403.15,1135.77 L405.8,1160.9 L408.45,1180.94 L411.11,1196.56 L413.76,1208.61 L416.41,1217.87 L419.07,1225.01 L421.72,1230.55 L424.37,1234.93 L427.03,1238.44 L429.68,1241.28 L432.33,1243.61 L434.99,1245.53 L437.64,1247.12 L440.29,1248.45 L442.95,1249.57 L445.6,1250.49 L448.25,1251.27 L450.91,1251.91 L453.56,1252.45 L456.21,1252.91 L458.87,1253.3 L461.52,1253.63 L464.17,1253.9 L466.83,1254.14 L469.48,1254.34 L472.13,1254.51 L474.79,1254.65 L477.44,1254.77 L480.09,1254.88 L482.75,1254.97 L485.4,1255.04 L488.05,1255.11 L490.71,1255.16 L493.36,1255.21 L496.01,1255.25 L498.67,1255.29 L501.32,1255.32 L503.97,1255.35 L506.63,1255.38 L509.28,1255.4 L511.93,1255.43 L514.59,1255.45 L517.24,1255.47 L519.89,1255.5 L522.55,1255.52" fill="none" stroke-linejoin="round" stroke="#00008f" stroke-width="2.6"/>
<polyline points="36.99,1243.5 39.64,1243.52 42.29,1243.54 44.95,1243.55 47.6,1243.56 50.25,1243.56 52.91,1243.56 55.56,1243.55 58.21,1243.53 60.87,1243.51 63.52,1243.47 66.17,1243.42 68.83,1243.36 71.48,1243.27 74.13,1243.17 76.79,1243.04 79.44,1242.88 82.09,1242.69 84.75,1242.46 87.4,1242.17 90.05,1241.82 92.71,1241.4 95.36,1240.89 98.01,1240.27 100.67,1239.49 103.32,1238.52 105.97,1237.25 108.63,1235.59 111.28,1233.34 113.93,1230.26 116.59,1226.01 119.24,1220.18 121.89,1212.32 124.55,1202.02 127.2,1188.98 129.85,1173.15 132.51,1154.92 135.16,1135.36 137.81,1116.45 140.47,1100.83 143.12,1091.62 145.77,1098.36 148.43,1113.37 151.08,1132.15 153.73,1151.88 156.39,1170.19 159.04,1185.64 161.69,1197.44 164.35,1205.28 167,1209.32 169.65,1210.41 172.31,1210.36 174.96,1211.94 177.61,1216.69 180.27,1223.22 182.92,1229.48 185.57,1234.48 188.23,1238.03 190.88,1240.38 193.53,1241.91 196.19,1242.95 198.84,1243.7 201.49,1244.28 204.15,1244.74 206.8,1245.12 209.45,1245.43 212.11,1245.69 214.76,1245.91 217.41,1246.09 220.07,1246.24 222.72,1246.37 225.37,1246.48 228.03,1246.58 230.68,1246.66 233.33,1246.73 235.99,1246.78 238.64,1246.83 241.29,1246.88 243.95,1246.91 246.6,1246.94 249.25,1246.97 251.91,1246.99 254.56,1247.01 257.21,1247.03 259.87,1247.04 262.52,1247.05 265.17,1247.06 267.83,1247.06 270.48,1247.07 273.13,1247.06 275.79,1247.06 278.44,1247.06 281.09,1247.04 283.75,1247.03 286.4,1247.01 289.05,1246.98 291.71,1246.95 294.36,1246.9 297.01,1246.84 299.67,1246.78 302.32,1246.69 304.97,1246.59 307.63,1246.46 310.28,1246.3 312.93,1246.11 315.59,1245.89 318.24,1245.61 320.89,1245.29 323.55,1244.89 326.2,1244.42 328.85,1243.86 331.51,1243.18 334.16,1242.4 336.81,1241.47 339.47,1240.35 342.12,1239.02 344.77,1237.4 347.43,1235.41 350.08,1232.95 352.73,1229.84 355.39,1225.8 358.04,1220.38 360.69,1212.86 363.35,1202.22 366,1187.21 368.65,1166.48 371.31,1139.09 373.96,1104.92 376.61,1065.37 379.27,1024.03 381.92,986.79 384.57,959.64 387.23,945.86 389.88,947.36 392.53,965.77 395.19,1000.56 397.84,1043.59 400.49,1085.64 403.15,1121.48 405.8,1149.65 408.45,1170.52 411.11,1184.86 413.76,1193.41 416.41,1197.08 419.07,1197.5 421.72,1197.75 424.37,1201.84 427.03,1210.57 429.68,1220.83 432.33,1229.93 434.99,1236.85 437.64,1241.65 440.29,1244.86 442.95,1247.03 445.6,1248.59 448.25,1249.78 450.91,1250.72 453.56,1251.49 456.21,1252.12 458.87,1252.65 461.52,1253.09 464.17,1253.46 466.83,1253.77 469.48,1254.04 472.13,1254.26 474.79,1254.44 477.44,1254.6 480.09,1254.73 482.75,1254.85 485.4,1254.94 488.05,1255.02 490.71,1255.09 493.36,1255.15 496.01,1255.2 498.67,1255.25 501.32,1255.29 503.97,1255.32 506.63,1255.35 509.28,1255.38 511.93,1255.41 514.59,1255.44 517.24,1255.46 519.89,1255.49 522.55,1255.51" fill="none" stroke-linejoin="round" stroke="#731573" stroke-width="2"/>
<line x1="383.25" y1="911.0" x2="383.25" y2="1269.2" stroke="#000" stroke-width="2.4" stroke-dasharray="5.6 4.5"/>
<line x1="391.47" y1="911.0" x2="391.47" y2="1269.2" stroke="#000" stroke-width="2.4" stroke-dasharray="5.6 4.5"/>
<line x1="423.31" y1="911.0" x2="423.31" y2="1269.2" stroke="#000" stroke-width="2.4" stroke-dasharray="5.6 4.5"/>
</g>
<rect x="387.3" y="916.9" width="87.43" height="23.3" fill="#fff"/>
<text x="389.3" y="934.2" fill="#2020a8" color="#2020a8" font-size="18.3">530.78 eV</text>
<rect x="276.8" y="1120.75" width="87.43" height="23" fill="#fff"/>
<text x="278.8" y="1138.75" fill="#238b23" color="#238b23" font-size="18.3">531.09 eV</text>
<rect x="416.2" y="1159.5" width="87.43" height="25.1" fill="#fff"/>
<text x="418.2" y="1178.6" fill="#c41e24" color="#c41e24" font-size="18.3">529.58 eV</text>
<path d="M505.03,1269.2v-4M505.03,911.0v4M491.77,1269.2v-7M491.77,911.0v7M478.5,1269.2v-4M478.5,911.0v4M465.23,1269.2v-4M465.23,911.0v4M451.97,1269.2v-4M451.97,911.0v4M438.7,1269.2v-7M438.7,911.0v7M425.43,1269.2v-4M425.43,911.0v4M412.17,1269.2v-4M412.17,911.0v4M398.9,1269.2v-4M398.9,911.0v4M385.63,1269.2v-7M385.63,911.0v7M372.37,1269.2v-4M372.37,911.0v4M359.1,1269.2v-4M359.1,911.0v4M345.83,1269.2v-4M345.83,911.0v4M332.57,1269.2v-7M332.57,911.0v7M319.3,1269.2v-4M319.3,911.0v4M306.03,1269.2v-4M306.03,911.0v4M292.77,1269.2v-4M292.77,911.0v4M279.5,1269.2v-7M279.5,911.0v7M266.23,1269.2v-4M266.23,911.0v4M252.97,1269.2v-4M252.97,911.0v4M239.7,1269.2v-4M239.7,911.0v4M226.43,1269.2v-7M226.43,911.0v7M213.17,1269.2v-4M213.17,911.0v4M199.9,1269.2v-4M199.9,911.0v4M186.63,1269.2v-4M186.63,911.0v4M173.37,1269.2v-7M173.37,911.0v7M160.1,1269.2v-4M160.1,911.0v4M146.83,1269.2v-4M146.83,911.0v4M133.57,1269.2v-4M133.57,911.0v4M120.3,1269.2v-7M120.3,911.0v7M107.03,1269.2v-4M107.03,911.0v4M93.77,1269.2v-4M93.77,911.0v4M80.5,1269.2v-4M80.5,911.0v4M67.23,1269.2v-7M67.23,911.0v7M53.97,1269.2v-4M53.97,911.0v4M40.7,923.16h4M518.3,923.16h-4M40.7,935.73h4M518.3,935.73h-4M40.7,948.29h4M518.3,948.29h-4M40.7,960.85h7M518.3,960.85h-7M40.7,973.41h4M518.3,973.41h-4M40.7,985.98h4M518.3,985.98h-4M40.7,998.54h4M518.3,998.54h-4M40.7,1011.1h7M518.3,1011.1h-7M40.7,1023.66h4M518.3,1023.66h-4M40.7,1036.22h4M518.3,1036.22h-4M40.7,1048.79h4M518.3,1048.79h-4M40.7,1061.35h7M518.3,1061.35h-7M40.7,1073.91h4M518.3,1073.91h-4M40.7,1086.47h4M518.3,1086.47h-4M40.7,1099.04h4M518.3,1099.04h-4M40.7,1111.6h7M518.3,1111.6h-7M40.7,1124.16h4M518.3,1124.16h-4M40.7,1136.72h4M518.3,1136.72h-4M40.7,1149.29h4M518.3,1149.29h-4M40.7,1161.85h7M518.3,1161.85h-7M40.7,1174.41h4M518.3,1174.41h-4M40.7,1186.97h4M518.3,1186.97h-4M40.7,1199.54h4M518.3,1199.54h-4M40.7,1212.1h7M518.3,1212.1h-7M40.7,1224.66h4M518.3,1224.66h-4M40.7,1237.22h4M518.3,1237.22h-4M40.7,1249.79h4M518.3,1249.79h-4M40.7,1262.35h7M518.3,1262.35h-7" stroke="#000" stroke-width="1.5" fill="none"/>
<rect x="40.7" y="911.0" width="477.59999999999997" height="358.20000000000005" fill="none" stroke="#000" stroke-width="1.7"/>
<text x="67.23" y="1291.2" font-size="18.6" text-anchor="middle">543</text>
<text x="120.3" y="1291.2" font-size="18.6" text-anchor="middle">541</text>
<text x="173.37" y="1291.2" font-size="18.6" text-anchor="middle">539</text>
<text x="226.43" y="1291.2" font-size="18.6" text-anchor="middle">537</text>
<text x="279.5" y="1291.2" font-size="18.6" text-anchor="middle">535</text>
<text x="332.57" y="1291.2" font-size="18.6" text-anchor="middle">533</text>
<text x="385.63" y="1291.2" font-size="18.6" text-anchor="middle">531</text>
<text x="438.7" y="1291.2" font-size="18.6" text-anchor="middle">529</text>
<text x="491.77" y="1291.2" font-size="18.6" text-anchor="middle">527</text>
<text x="279.5" y="1317.2" font-size="26.3" text-anchor="middle">Binding Energy (eV)</text>
<text transform="translate(31.0,1090.1) rotate(-90)" x="0" y="0" font-size="26.3" text-anchor="middle">Intensity (arb. units)</text>
<text x="49.6" y="943.3" font-size="31.8" style="stroke-width:0">(c)</text>
<circle cx="228" cy="942.3" r="2.9" fill="none" stroke="#000" stroke-width="1.3"/>
<text x="253.9" y="948.5" font-size="18.4">Data</text>
<line x1="206.5" y1="964.7" x2="249.5" y2="964.7" stroke="#00008f" stroke-width="2.6"/>
<text x="253.9" y="970.9" font-size="18.4">Sb(O) 3d</text>
<line x1="206.5" y1="987.1" x2="249.5" y2="987.1" stroke="#b5101f" stroke-width="2.4" stroke-dasharray="2.3 2.55"/>
<text x="253.9" y="993.3" font-size="18.4">Sb(Se) 3d</text>
<line x1="206.5" y1="1009.5" x2="249.5" y2="1009.5" stroke="#15801a" stroke-width="2.4" stroke-dasharray="5.8 4.4"/>
<text x="253.9" y="1015.7" font-size="18.4">O 1s</text>
<line x1="206.5" y1="1031.5" x2="249.5" y2="1031.5" stroke="#6a6a6a" stroke-width="1"/>
<text x="253.9" y="1038.1" font-size="18.4">Background</text>
<line x1="206.5" y1="1054.3" x2="249.5" y2="1054.3" stroke="#731573" stroke-width="2"/>
<text x="253.9" y="1060.5" font-size="18.4">Envelope</text>
</svg>
</body></html>
